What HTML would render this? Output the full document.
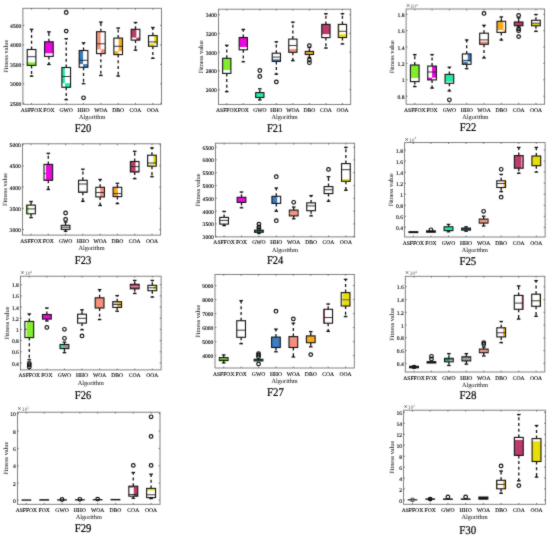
<!DOCTYPE html>
<html><head><meta charset="utf-8"><style>
html,body{margin:0;padding:0;background:#fff;}
body{width:550px;height:538px;overflow:hidden;}
svg{display:block;}
text{text-rendering:geometricPrecision;}
.tk{font-family:"Liberation Serif", "Times New Roman", serif;font-size:5.6px;fill:#000;stroke:#000;stroke-width:0.12px;}
.al{font-family:"Liberation Serif", "Times New Roman", serif;font-size:6.3px;fill:#1a1a1a;stroke:#1a1a1a;stroke-width:0.03px;}
.tt{font-family:"Liberation Serif", "Times New Roman", serif;font-size:11.8px;fill:#000;stroke:#000;stroke-width:0.2px;}
.ex{font-family:"Liberation Serif", "Times New Roman", serif;font-size:5.3px;fill:#555;}
</style></head><body>
<svg width="550" height="538" viewBox="0 0 550 538">
<defs><filter id="soft" x="0" y="0" width="100%" height="100%" filterUnits="userSpaceOnUse" color-interpolation-filters="sRGB"><feConvolveMatrix order="3" kernelMatrix="1 2 1 2 20 2 1 2 1" edgeMode="duplicate"/></filter></defs>
<g filter="url(#soft)">
<rect x="0" y="0" width="550" height="538" fill="#fff"/>
<rect x="22.9" y="8.3" width="138.60" height="96.00" fill="none" stroke="#6a6a6a" stroke-width="0.85"/>
<line x1="22.9" y1="103.25" x2="24.299999999999997" y2="103.25" stroke="#333" stroke-width="0.6"/>
<line x1="161.5" y1="103.25" x2="160.1" y2="103.25" stroke="#333" stroke-width="0.6"/>
<text x="21.299999999999997" y="105.75" text-anchor="end" class="tk">2500</text>
<line x1="22.9" y1="83.8" x2="24.299999999999997" y2="83.8" stroke="#333" stroke-width="0.6"/>
<line x1="161.5" y1="83.8" x2="160.1" y2="83.8" stroke="#333" stroke-width="0.6"/>
<text x="21.299999999999997" y="86.3" text-anchor="end" class="tk">3000</text>
<line x1="22.9" y1="64.35" x2="24.299999999999997" y2="64.35" stroke="#333" stroke-width="0.6"/>
<line x1="161.5" y1="64.35" x2="160.1" y2="64.35" stroke="#333" stroke-width="0.6"/>
<text x="21.299999999999997" y="66.85" text-anchor="end" class="tk">3500</text>
<line x1="22.9" y1="44.9" x2="24.299999999999997" y2="44.9" stroke="#333" stroke-width="0.6"/>
<line x1="161.5" y1="44.9" x2="160.1" y2="44.9" stroke="#333" stroke-width="0.6"/>
<text x="21.299999999999997" y="47.4" text-anchor="end" class="tk">4000</text>
<line x1="22.9" y1="25.45" x2="24.299999999999997" y2="25.45" stroke="#333" stroke-width="0.6"/>
<line x1="161.5" y1="25.45" x2="160.1" y2="25.45" stroke="#333" stroke-width="0.6"/>
<text x="21.299999999999997" y="27.95" text-anchor="end" class="tk">4500</text>
<line x1="31.56" y1="104.3" x2="31.56" y2="102.89999999999999" stroke="#333" stroke-width="0.6"/>
<line x1="31.56" y1="8.3" x2="31.56" y2="9.700000000000001" stroke="#333" stroke-width="0.6"/>
<line x1="48.89" y1="104.3" x2="48.89" y2="102.89999999999999" stroke="#333" stroke-width="0.6"/>
<line x1="48.89" y1="8.3" x2="48.89" y2="9.700000000000001" stroke="#333" stroke-width="0.6"/>
<line x1="66.21" y1="104.3" x2="66.21" y2="102.89999999999999" stroke="#333" stroke-width="0.6"/>
<line x1="66.21" y1="8.3" x2="66.21" y2="9.700000000000001" stroke="#333" stroke-width="0.6"/>
<line x1="83.54" y1="104.3" x2="83.54" y2="102.89999999999999" stroke="#333" stroke-width="0.6"/>
<line x1="83.54" y1="8.3" x2="83.54" y2="9.700000000000001" stroke="#333" stroke-width="0.6"/>
<line x1="100.86" y1="104.3" x2="100.86" y2="102.89999999999999" stroke="#333" stroke-width="0.6"/>
<line x1="100.86" y1="8.3" x2="100.86" y2="9.700000000000001" stroke="#333" stroke-width="0.6"/>
<line x1="118.19" y1="104.3" x2="118.19" y2="102.89999999999999" stroke="#333" stroke-width="0.6"/>
<line x1="118.19" y1="8.3" x2="118.19" y2="9.700000000000001" stroke="#333" stroke-width="0.6"/>
<line x1="135.51" y1="104.3" x2="135.51" y2="102.89999999999999" stroke="#333" stroke-width="0.6"/>
<line x1="135.51" y1="8.3" x2="135.51" y2="9.700000000000001" stroke="#333" stroke-width="0.6"/>
<line x1="152.84" y1="104.3" x2="152.84" y2="102.89999999999999" stroke="#333" stroke-width="0.6"/>
<line x1="152.84" y1="8.3" x2="152.84" y2="9.700000000000001" stroke="#333" stroke-width="0.6"/>
<text x="31.56" y="111.8" text-anchor="middle" class="tk">ASFFOX</text>
<text x="48.89" y="111.8" text-anchor="middle" class="tk">FOX</text>
<text x="66.21" y="111.8" text-anchor="middle" class="tk">GWO</text>
<text x="83.54" y="111.8" text-anchor="middle" class="tk">HHO</text>
<text x="100.86" y="111.8" text-anchor="middle" class="tk">WOA</text>
<text x="118.19" y="111.8" text-anchor="middle" class="tk">DBO</text>
<text x="135.51" y="111.8" text-anchor="middle" class="tk">COA</text>
<text x="152.84" y="111.8" text-anchor="middle" class="tk">OOA</text>
<text x="92.20" y="118.89999999999999" text-anchor="middle" class="al">Algorithm</text>
<text x="7.60" y="56.30" text-anchor="middle" class="al" transform="rotate(-90 7.60 56.30)">Fitness value</text>
<text x="83.00" y="132.20" text-anchor="middle" class="tt" textLength="16.3" lengthAdjust="spacingAndGlyphs">F20</text>
<line x1="31.56" y1="49.5" x2="31.56" y2="29.3" stroke="#111" stroke-width="1.3" stroke-dasharray="3.0,2.7" stroke-dashoffset="0"/>
<line x1="29.76" y1="29.3" x2="33.36" y2="29.3" stroke="#111" stroke-width="1.3"/>
<line x1="31.56" y1="29.3" x2="31.56" y2="30.400000000000002" stroke="#111" stroke-width="1.3"/>
<line x1="31.56" y1="65.4" x2="31.56" y2="76.2" stroke="#111" stroke-width="1.3" stroke-dasharray="3.0,2.7" stroke-dashoffset="0"/>
<line x1="29.76" y1="76.2" x2="33.36" y2="76.2" stroke="#111" stroke-width="1.3"/>
<line x1="31.56" y1="76.2" x2="31.56" y2="75.10000000000001" stroke="#111" stroke-width="1.3"/>
<rect x="27.23" y="49.5" width="8.66" height="15.90" fill="#fff"/>
<rect x="27.23" y="62.3" width="8.66" height="3.10" fill="#82ee2a"/>
<rect x="27.23" y="49.5" width="8.66" height="15.90" fill="none" stroke="#111" stroke-width="1.1"/>
<line x1="27.23" y1="56.7" x2="35.89" y2="56.7" stroke="#222" stroke-width="0.9"/>
<line x1="48.89" y1="41.8" x2="48.89" y2="31.8" stroke="#111" stroke-width="1.3" stroke-dasharray="3.0,2.7" stroke-dashoffset="0"/>
<line x1="47.09" y1="31.8" x2="50.69" y2="31.8" stroke="#111" stroke-width="1.3"/>
<line x1="48.89" y1="31.8" x2="48.89" y2="32.9" stroke="#111" stroke-width="1.3"/>
<line x1="48.89" y1="56.4" x2="48.89" y2="64.5" stroke="#111" stroke-width="1.3" stroke-dasharray="3.0,2.7" stroke-dashoffset="0"/>
<line x1="47.09" y1="64.5" x2="50.69" y2="64.5" stroke="#111" stroke-width="1.3"/>
<line x1="48.89" y1="64.5" x2="48.89" y2="63.4" stroke="#111" stroke-width="1.3"/>
<rect x="44.56" y="41.8" width="8.66" height="14.60" fill="#ea08dc"/>
<rect x="44.56" y="53.3" width="8.66" height="3.10" fill="#fff"/>
<rect x="44.56" y="41.8" width="8.66" height="14.60" fill="none" stroke="#111" stroke-width="1.1"/>
<line x1="66.21" y1="67.5" x2="66.21" y2="38.7" stroke="#111" stroke-width="1.3" stroke-dasharray="3.0,2.7" stroke-dashoffset="0"/>
<line x1="64.41" y1="38.7" x2="68.01" y2="38.7" stroke="#111" stroke-width="1.3"/>
<line x1="66.21" y1="38.7" x2="66.21" y2="39.800000000000004" stroke="#111" stroke-width="1.3"/>
<line x1="66.21" y1="87.3" x2="66.21" y2="99.7" stroke="#111" stroke-width="1.3" stroke-dasharray="3.0,2.7" stroke-dashoffset="0"/>
<line x1="64.41" y1="99.7" x2="68.01" y2="99.7" stroke="#111" stroke-width="1.3"/>
<line x1="66.21" y1="99.7" x2="66.21" y2="98.60000000000001" stroke="#111" stroke-width="1.3"/>
<rect x="61.88" y="67.5" width="8.66" height="19.80" fill="#fff"/>
<rect x="61.88" y="67.5" width="3.03" height="15.70" fill="#22eea2"/>
<rect x="64.91" y="83.2" width="5.63" height="4.10" fill="#22eea2"/>
<rect x="61.88" y="67.5" width="8.66" height="19.80" fill="none" stroke="#111" stroke-width="1.1"/>
<line x1="61.88" y1="76.5" x2="70.54" y2="76.5" stroke="#222" stroke-width="0.9"/>
<circle cx="66.21" cy="12.5" r="1.8" fill="none" stroke="#111" stroke-width="1.2"/>
<circle cx="66.21" cy="31.1" r="1.8" fill="none" stroke="#111" stroke-width="1.2"/>
<line x1="83.54" y1="50.5" x2="83.54" y2="42.8" stroke="#111" stroke-width="1.3" stroke-dasharray="3.0,2.7" stroke-dashoffset="0"/>
<line x1="81.74" y1="42.8" x2="85.34" y2="42.8" stroke="#111" stroke-width="1.3"/>
<line x1="83.54" y1="42.8" x2="83.54" y2="43.9" stroke="#111" stroke-width="1.3"/>
<line x1="83.54" y1="67.3" x2="83.54" y2="83.7" stroke="#111" stroke-width="1.3" stroke-dasharray="3.0,2.7" stroke-dashoffset="0"/>
<line x1="81.74" y1="83.7" x2="85.34" y2="83.7" stroke="#111" stroke-width="1.3"/>
<line x1="83.54" y1="83.7" x2="83.54" y2="82.60000000000001" stroke="#111" stroke-width="1.3"/>
<rect x="79.21" y="50.5" width="8.66" height="16.80" fill="#fff"/>
<rect x="79.21" y="50.5" width="3.90" height="13.60" fill="#3b7ec4"/>
<rect x="83.10" y="64.1" width="4.76" height="3.20" fill="#3b7ec4"/>
<rect x="79.21" y="50.5" width="8.66" height="16.80" fill="none" stroke="#111" stroke-width="1.1"/>
<line x1="79.21" y1="60.3" x2="87.87" y2="60.3" stroke="#222" stroke-width="0.9"/>
<circle cx="83.54" cy="97.8" r="1.8" fill="none" stroke="#111" stroke-width="1.2"/>
<line x1="100.86" y1="31.7" x2="100.86" y2="22.1" stroke="#111" stroke-width="1.3" stroke-dasharray="3.0,2.7" stroke-dashoffset="0"/>
<line x1="99.06" y1="22.1" x2="102.66" y2="22.1" stroke="#111" stroke-width="1.3"/>
<line x1="100.86" y1="22.1" x2="100.86" y2="23.200000000000003" stroke="#111" stroke-width="1.3"/>
<line x1="100.86" y1="53.6" x2="100.86" y2="75.5" stroke="#111" stroke-width="1.3" stroke-dasharray="3.0,2.7" stroke-dashoffset="0"/>
<line x1="99.06" y1="75.5" x2="102.66" y2="75.5" stroke="#111" stroke-width="1.3"/>
<line x1="100.86" y1="75.5" x2="100.86" y2="74.4" stroke="#111" stroke-width="1.3"/>
<rect x="96.53" y="31.7" width="8.66" height="21.90" fill="#fff"/>
<rect x="96.53" y="31.7" width="4.16" height="17.60" fill="#f6907c"/>
<rect x="100.69" y="49.3" width="4.50" height="4.30" fill="#f6907c"/>
<rect x="96.53" y="31.7" width="8.66" height="21.90" fill="none" stroke="#111" stroke-width="1.1"/>
<line x1="96.53" y1="43.8" x2="105.19" y2="43.8" stroke="#222" stroke-width="0.9"/>
<line x1="118.19" y1="38.1" x2="118.19" y2="28.0" stroke="#111" stroke-width="1.3" stroke-dasharray="3.0,2.7" stroke-dashoffset="0"/>
<line x1="116.39" y1="28.0" x2="119.99" y2="28.0" stroke="#111" stroke-width="1.3"/>
<line x1="118.19" y1="28.0" x2="118.19" y2="29.1" stroke="#111" stroke-width="1.3"/>
<line x1="118.19" y1="54.6" x2="118.19" y2="76.1" stroke="#111" stroke-width="1.3" stroke-dasharray="3.0,2.7" stroke-dashoffset="0"/>
<line x1="116.39" y1="76.1" x2="119.99" y2="76.1" stroke="#111" stroke-width="1.3"/>
<line x1="118.19" y1="76.1" x2="118.19" y2="75.0" stroke="#111" stroke-width="1.3"/>
<rect x="113.86" y="38.1" width="8.66" height="16.50" fill="#fff"/>
<rect x="118.62" y="38.1" width="3.90" height="13.20" fill="#f7ab1f"/>
<rect x="113.86" y="51.3" width="4.76" height="3.30" fill="#f7ab1f"/>
<rect x="113.86" y="38.1" width="8.66" height="16.50" fill="none" stroke="#111" stroke-width="1.1"/>
<line x1="113.86" y1="46.3" x2="122.52" y2="46.3" stroke="#222" stroke-width="0.9"/>
<line x1="135.51" y1="29.3" x2="135.51" y2="22.5" stroke="#111" stroke-width="1.3" stroke-dasharray="3.0,2.7" stroke-dashoffset="0"/>
<line x1="133.71" y1="22.5" x2="137.31" y2="22.5" stroke="#111" stroke-width="1.3"/>
<line x1="135.51" y1="22.5" x2="135.51" y2="23.6" stroke="#111" stroke-width="1.3"/>
<line x1="135.51" y1="40.1" x2="135.51" y2="50.2" stroke="#111" stroke-width="1.3" stroke-dasharray="3.0,2.7" stroke-dashoffset="0"/>
<line x1="133.71" y1="50.2" x2="137.31" y2="50.2" stroke="#111" stroke-width="1.3"/>
<line x1="135.51" y1="50.2" x2="135.51" y2="49.1" stroke="#111" stroke-width="1.3"/>
<rect x="131.18" y="29.3" width="8.66" height="10.80" fill="#fff"/>
<rect x="131.18" y="29.3" width="5.20" height="8.30" fill="#bc3b6c"/>
<rect x="136.38" y="37.6" width="3.46" height="2.50" fill="#bc3b6c"/>
<rect x="131.18" y="29.3" width="8.66" height="10.80" fill="none" stroke="#111" stroke-width="1.1"/>
<line x1="152.84" y1="35.6" x2="152.84" y2="27.5" stroke="#111" stroke-width="1.3" stroke-dasharray="3.0,2.7" stroke-dashoffset="0"/>
<line x1="151.04" y1="27.5" x2="154.64" y2="27.5" stroke="#111" stroke-width="1.3"/>
<line x1="152.84" y1="27.5" x2="152.84" y2="28.6" stroke="#111" stroke-width="1.3"/>
<line x1="152.84" y1="46.3" x2="152.84" y2="58.3" stroke="#111" stroke-width="1.3" stroke-dasharray="3.0,2.7" stroke-dashoffset="0"/>
<line x1="151.04" y1="58.3" x2="154.64" y2="58.3" stroke="#111" stroke-width="1.3"/>
<line x1="152.84" y1="58.3" x2="152.84" y2="57.199999999999996" stroke="#111" stroke-width="1.3"/>
<rect x="148.51" y="35.6" width="8.66" height="10.70" fill="#fff"/>
<rect x="154.14" y="35.6" width="3.03" height="8.20" fill="#eade08"/>
<rect x="148.51" y="43.6" width="5.63" height="2.00" fill="#eade08"/>
<rect x="148.51" y="35.6" width="8.66" height="10.70" fill="none" stroke="#111" stroke-width="1.1"/>
<line x1="148.51" y1="41.9" x2="157.17" y2="41.9" stroke="#222" stroke-width="0.9"/>
<rect x="218.5" y="9.2" width="132.20" height="95.20" fill="none" stroke="#6a6a6a" stroke-width="0.85"/>
<line x1="218.5" y1="89.7" x2="219.9" y2="89.7" stroke="#333" stroke-width="0.6"/>
<line x1="350.7" y1="89.7" x2="349.3" y2="89.7" stroke="#333" stroke-width="0.6"/>
<text x="216.9" y="92.2" text-anchor="end" class="tk">2600</text>
<line x1="218.5" y1="70.95" x2="219.9" y2="70.95" stroke="#333" stroke-width="0.6"/>
<line x1="350.7" y1="70.95" x2="349.3" y2="70.95" stroke="#333" stroke-width="0.6"/>
<text x="216.9" y="73.45" text-anchor="end" class="tk">2800</text>
<line x1="218.5" y1="52.2" x2="219.9" y2="52.2" stroke="#333" stroke-width="0.6"/>
<line x1="350.7" y1="52.2" x2="349.3" y2="52.2" stroke="#333" stroke-width="0.6"/>
<text x="216.9" y="54.7" text-anchor="end" class="tk">3000</text>
<line x1="218.5" y1="33.45" x2="219.9" y2="33.45" stroke="#333" stroke-width="0.6"/>
<line x1="350.7" y1="33.45" x2="349.3" y2="33.45" stroke="#333" stroke-width="0.6"/>
<text x="216.9" y="35.95" text-anchor="end" class="tk">3200</text>
<line x1="218.5" y1="14.7" x2="219.9" y2="14.7" stroke="#333" stroke-width="0.6"/>
<line x1="350.7" y1="14.7" x2="349.3" y2="14.7" stroke="#333" stroke-width="0.6"/>
<text x="216.9" y="17.2" text-anchor="end" class="tk">3400</text>
<line x1="226.76" y1="104.4" x2="226.76" y2="103.0" stroke="#333" stroke-width="0.6"/>
<line x1="226.76" y1="9.2" x2="226.76" y2="10.6" stroke="#333" stroke-width="0.6"/>
<line x1="243.29" y1="104.4" x2="243.29" y2="103.0" stroke="#333" stroke-width="0.6"/>
<line x1="243.29" y1="9.2" x2="243.29" y2="10.6" stroke="#333" stroke-width="0.6"/>
<line x1="259.81" y1="104.4" x2="259.81" y2="103.0" stroke="#333" stroke-width="0.6"/>
<line x1="259.81" y1="9.2" x2="259.81" y2="10.6" stroke="#333" stroke-width="0.6"/>
<line x1="276.34" y1="104.4" x2="276.34" y2="103.0" stroke="#333" stroke-width="0.6"/>
<line x1="276.34" y1="9.2" x2="276.34" y2="10.6" stroke="#333" stroke-width="0.6"/>
<line x1="292.86" y1="104.4" x2="292.86" y2="103.0" stroke="#333" stroke-width="0.6"/>
<line x1="292.86" y1="9.2" x2="292.86" y2="10.6" stroke="#333" stroke-width="0.6"/>
<line x1="309.39" y1="104.4" x2="309.39" y2="103.0" stroke="#333" stroke-width="0.6"/>
<line x1="309.39" y1="9.2" x2="309.39" y2="10.6" stroke="#333" stroke-width="0.6"/>
<line x1="325.91" y1="104.4" x2="325.91" y2="103.0" stroke="#333" stroke-width="0.6"/>
<line x1="325.91" y1="9.2" x2="325.91" y2="10.6" stroke="#333" stroke-width="0.6"/>
<line x1="342.44" y1="104.4" x2="342.44" y2="103.0" stroke="#333" stroke-width="0.6"/>
<line x1="342.44" y1="9.2" x2="342.44" y2="10.6" stroke="#333" stroke-width="0.6"/>
<text x="226.76" y="111.9" text-anchor="middle" class="tk">ASFFOX</text>
<text x="243.29" y="111.9" text-anchor="middle" class="tk">FOX</text>
<text x="259.81" y="111.9" text-anchor="middle" class="tk">GWO</text>
<text x="276.34" y="111.9" text-anchor="middle" class="tk">HHO</text>
<text x="292.86" y="111.9" text-anchor="middle" class="tk">WOA</text>
<text x="309.39" y="111.9" text-anchor="middle" class="tk">DBO</text>
<text x="325.91" y="111.9" text-anchor="middle" class="tk">COA</text>
<text x="342.44" y="111.9" text-anchor="middle" class="tk">OOA</text>
<text x="284.60" y="119.0" text-anchor="middle" class="al">Algorithm</text>
<text x="203.20" y="56.80" text-anchor="middle" class="al" transform="rotate(-90 203.20 56.80)">Fitness value</text>
<text x="275.00" y="132.20" text-anchor="middle" class="tt" textLength="16.1" lengthAdjust="spacingAndGlyphs">F21</text>
<line x1="226.76" y1="58.3" x2="226.76" y2="45.3" stroke="#111" stroke-width="1.3" stroke-dasharray="3.0,2.7" stroke-dashoffset="0"/>
<line x1="224.96" y1="45.3" x2="228.56" y2="45.3" stroke="#111" stroke-width="1.3"/>
<line x1="226.76" y1="45.3" x2="226.76" y2="46.4" stroke="#111" stroke-width="1.3"/>
<line x1="226.76" y1="73.4" x2="226.76" y2="91.7" stroke="#111" stroke-width="1.3" stroke-dasharray="3.0,2.7" stroke-dashoffset="0"/>
<line x1="224.96" y1="91.7" x2="228.56" y2="91.7" stroke="#111" stroke-width="1.3"/>
<line x1="226.76" y1="91.7" x2="226.76" y2="90.60000000000001" stroke="#111" stroke-width="1.3"/>
<rect x="222.63" y="58.3" width="8.26" height="15.10" fill="#82ee2a"/>
<rect x="222.63" y="70" width="8.26" height="3.40" fill="#fff"/>
<rect x="222.63" y="58.3" width="8.26" height="15.10" fill="none" stroke="#111" stroke-width="1.1"/>
<line x1="243.29" y1="37.5" x2="243.29" y2="29.4" stroke="#111" stroke-width="1.3" stroke-dasharray="3.0,2.7" stroke-dashoffset="0"/>
<line x1="241.49" y1="29.4" x2="245.09" y2="29.4" stroke="#111" stroke-width="1.3"/>
<line x1="243.29" y1="29.4" x2="243.29" y2="30.5" stroke="#111" stroke-width="1.3"/>
<line x1="243.29" y1="49.8" x2="243.29" y2="61.8" stroke="#111" stroke-width="1.3" stroke-dasharray="3.0,2.7" stroke-dashoffset="0"/>
<line x1="241.49" y1="61.8" x2="245.09" y2="61.8" stroke="#111" stroke-width="1.3"/>
<line x1="243.29" y1="61.8" x2="243.29" y2="60.699999999999996" stroke="#111" stroke-width="1.3"/>
<rect x="239.16" y="37.5" width="8.26" height="12.30" fill="#ea08dc"/>
<rect x="239.16" y="47" width="8.26" height="2.80" fill="#fff"/>
<rect x="239.16" y="37.5" width="8.26" height="12.30" fill="none" stroke="#111" stroke-width="1.1"/>
<line x1="259.81" y1="92.6" x2="259.81" y2="88.8" stroke="#111" stroke-width="1.3" stroke-dasharray="3.0,2.7" stroke-dashoffset="0"/>
<line x1="258.01" y1="88.8" x2="261.61" y2="88.8" stroke="#111" stroke-width="1.3"/>
<line x1="259.81" y1="97.5" x2="259.81" y2="99.9" stroke="#111" stroke-width="1.3" stroke-dasharray="3.0,2.7" stroke-dashoffset="0"/>
<line x1="258.01" y1="99.9" x2="261.61" y2="99.9" stroke="#111" stroke-width="1.3"/>
<rect x="255.68" y="92.6" width="8.26" height="4.90" fill="#22eea2"/>
<rect x="255.68" y="92.6" width="8.26" height="4.90" fill="none" stroke="#111" stroke-width="1.1"/>
<circle cx="259.81" cy="70.5" r="1.8" fill="none" stroke="#111" stroke-width="1.2"/>
<circle cx="259.81" cy="76.5" r="1.8" fill="none" stroke="#111" stroke-width="1.2"/>
<line x1="276.34" y1="53.2" x2="276.34" y2="41.8" stroke="#111" stroke-width="1.3" stroke-dasharray="3.0,2.7" stroke-dashoffset="0"/>
<line x1="274.54" y1="41.8" x2="278.14" y2="41.8" stroke="#111" stroke-width="1.3"/>
<line x1="276.34" y1="41.8" x2="276.34" y2="42.9" stroke="#111" stroke-width="1.3"/>
<line x1="276.34" y1="61.4" x2="276.34" y2="74.2" stroke="#111" stroke-width="1.3" stroke-dasharray="3.0,2.7" stroke-dashoffset="0"/>
<line x1="274.54" y1="74.2" x2="278.14" y2="74.2" stroke="#111" stroke-width="1.3"/>
<line x1="276.34" y1="74.2" x2="276.34" y2="73.10000000000001" stroke="#111" stroke-width="1.3"/>
<rect x="272.21" y="53.2" width="8.26" height="8.20" fill="#fff"/>
<rect x="272.21" y="59.3" width="8.26" height="2.10" fill="#3b7ec4"/>
<rect x="272.21" y="53.2" width="8.26" height="8.20" fill="none" stroke="#111" stroke-width="1.1"/>
<line x1="272.21" y1="57.1" x2="280.47" y2="57.1" stroke="#222" stroke-width="0.9"/>
<circle cx="276.34" cy="81.9" r="1.8" fill="none" stroke="#111" stroke-width="1.2"/>
<line x1="292.86" y1="39.1" x2="292.86" y2="22.1" stroke="#111" stroke-width="1.3" stroke-dasharray="3.0,2.7" stroke-dashoffset="0"/>
<line x1="291.06" y1="22.1" x2="294.66" y2="22.1" stroke="#111" stroke-width="1.3"/>
<line x1="292.86" y1="22.1" x2="292.86" y2="23.200000000000003" stroke="#111" stroke-width="1.3"/>
<line x1="292.86" y1="52.3" x2="292.86" y2="60.7" stroke="#111" stroke-width="1.3" stroke-dasharray="3.0,2.7" stroke-dashoffset="0"/>
<line x1="291.06" y1="60.7" x2="294.66" y2="60.7" stroke="#111" stroke-width="1.3"/>
<line x1="292.86" y1="60.7" x2="292.86" y2="59.6" stroke="#111" stroke-width="1.3"/>
<rect x="288.73" y="39.1" width="8.26" height="13.20" fill="#fff"/>
<rect x="288.73" y="49.1" width="8.26" height="3.20" fill="#f6907c"/>
<rect x="288.73" y="39.1" width="8.26" height="13.20" fill="none" stroke="#111" stroke-width="1.1"/>
<line x1="288.73" y1="45.5" x2="296.99" y2="45.5" stroke="#222" stroke-width="0.9"/>
<line x1="309.39" y1="51.4" x2="309.39" y2="47.5" stroke="#111" stroke-width="1.3" stroke-dasharray="3.0,2.7" stroke-dashoffset="0"/>
<line x1="307.59" y1="47.5" x2="311.19" y2="47.5" stroke="#111" stroke-width="1.3"/>
<line x1="309.39" y1="54.5" x2="309.39" y2="57.5" stroke="#111" stroke-width="1.3" stroke-dasharray="3.0,2.7" stroke-dashoffset="0"/>
<line x1="307.59" y1="57.5" x2="311.19" y2="57.5" stroke="#111" stroke-width="1.3"/>
<rect x="305.26" y="51.4" width="8.26" height="3.10" fill="#f7ab1f"/>
<rect x="305.26" y="51.4" width="8.26" height="3.10" fill="none" stroke="#111" stroke-width="1.1"/>
<circle cx="309.39" cy="45.6" r="1.8" fill="none" stroke="#111" stroke-width="1.2"/>
<circle cx="309.39" cy="60.0" r="1.8" fill="none" stroke="#111" stroke-width="1.2"/>
<circle cx="309.39" cy="62.7" r="1.8" fill="none" stroke="#111" stroke-width="1.2"/>
<line x1="325.91" y1="24.4" x2="325.91" y2="13.7" stroke="#111" stroke-width="1.3" stroke-dasharray="3.0,2.7" stroke-dashoffset="0"/>
<line x1="324.11" y1="13.7" x2="327.71" y2="13.7" stroke="#111" stroke-width="1.3"/>
<line x1="325.91" y1="13.7" x2="325.91" y2="14.799999999999999" stroke="#111" stroke-width="1.3"/>
<line x1="325.91" y1="37.6" x2="325.91" y2="48.1" stroke="#111" stroke-width="1.3" stroke-dasharray="3.0,2.7" stroke-dashoffset="0"/>
<line x1="324.11" y1="48.1" x2="327.71" y2="48.1" stroke="#111" stroke-width="1.3"/>
<line x1="325.91" y1="48.1" x2="325.91" y2="47.0" stroke="#111" stroke-width="1.3"/>
<rect x="321.78" y="24.4" width="8.26" height="13.20" fill="#bc3b6c"/>
<rect x="321.78" y="34.2" width="8.26" height="3.40" fill="#fff"/>
<rect x="321.78" y="24.4" width="8.26" height="13.20" fill="none" stroke="#111" stroke-width="1.1"/>
<line x1="342.44" y1="24.4" x2="342.44" y2="13.6" stroke="#111" stroke-width="1.3" stroke-dasharray="3.0,2.7" stroke-dashoffset="0"/>
<line x1="340.64" y1="13.6" x2="344.24" y2="13.6" stroke="#111" stroke-width="1.3"/>
<line x1="342.44" y1="13.6" x2="342.44" y2="14.7" stroke="#111" stroke-width="1.3"/>
<line x1="342.44" y1="37.5" x2="342.44" y2="44.0" stroke="#111" stroke-width="1.3" stroke-dasharray="3.0,2.7" stroke-dashoffset="0"/>
<line x1="340.64" y1="44.0" x2="344.24" y2="44.0" stroke="#111" stroke-width="1.3"/>
<line x1="342.44" y1="44.0" x2="342.44" y2="42.9" stroke="#111" stroke-width="1.3"/>
<rect x="338.31" y="24.4" width="8.26" height="13.10" fill="#fff"/>
<rect x="338.31" y="34.2" width="8.26" height="2.60" fill="#eade08"/>
<rect x="338.31" y="24.4" width="1.24" height="13.10" fill="#eade08"/>
<rect x="338.31" y="24.4" width="8.26" height="13.10" fill="none" stroke="#111" stroke-width="1.1"/>
<line x1="338.31" y1="31.3" x2="346.57" y2="31.3" stroke="#222" stroke-width="0.9"/>
<rect x="406.1" y="9.0" width="138.50" height="95.25" fill="none" stroke="#6a6a6a" stroke-width="0.85"/>
<line x1="406.1" y1="96.2" x2="407.5" y2="96.2" stroke="#333" stroke-width="0.6"/>
<line x1="544.6" y1="96.2" x2="543.2" y2="96.2" stroke="#333" stroke-width="0.6"/>
<text x="404.5" y="98.7" text-anchor="end" class="tk">0.8</text>
<line x1="406.1" y1="79.8" x2="407.5" y2="79.8" stroke="#333" stroke-width="0.6"/>
<line x1="544.6" y1="79.8" x2="543.2" y2="79.8" stroke="#333" stroke-width="0.6"/>
<text x="404.5" y="82.3" text-anchor="end" class="tk">1</text>
<line x1="406.1" y1="63.4" x2="407.5" y2="63.4" stroke="#333" stroke-width="0.6"/>
<line x1="544.6" y1="63.4" x2="543.2" y2="63.4" stroke="#333" stroke-width="0.6"/>
<text x="404.5" y="65.9" text-anchor="end" class="tk">1.2</text>
<line x1="406.1" y1="47.0" x2="407.5" y2="47.0" stroke="#333" stroke-width="0.6"/>
<line x1="544.6" y1="47.0" x2="543.2" y2="47.0" stroke="#333" stroke-width="0.6"/>
<text x="404.5" y="49.5" text-anchor="end" class="tk">1.4</text>
<line x1="406.1" y1="30.6" x2="407.5" y2="30.6" stroke="#333" stroke-width="0.6"/>
<line x1="544.6" y1="30.6" x2="543.2" y2="30.6" stroke="#333" stroke-width="0.6"/>
<text x="404.5" y="33.1" text-anchor="end" class="tk">1.6</text>
<line x1="406.1" y1="14.25" x2="407.5" y2="14.25" stroke="#333" stroke-width="0.6"/>
<line x1="544.6" y1="14.25" x2="543.2" y2="14.25" stroke="#333" stroke-width="0.6"/>
<text x="404.5" y="16.75" text-anchor="end" class="tk">1.8</text>
<line x1="414.76" y1="104.25" x2="414.76" y2="102.85" stroke="#333" stroke-width="0.6"/>
<line x1="414.76" y1="9.0" x2="414.76" y2="10.4" stroke="#333" stroke-width="0.6"/>
<line x1="432.07" y1="104.25" x2="432.07" y2="102.85" stroke="#333" stroke-width="0.6"/>
<line x1="432.07" y1="9.0" x2="432.07" y2="10.4" stroke="#333" stroke-width="0.6"/>
<line x1="449.38" y1="104.25" x2="449.38" y2="102.85" stroke="#333" stroke-width="0.6"/>
<line x1="449.38" y1="9.0" x2="449.38" y2="10.4" stroke="#333" stroke-width="0.6"/>
<line x1="466.69" y1="104.25" x2="466.69" y2="102.85" stroke="#333" stroke-width="0.6"/>
<line x1="466.69" y1="9.0" x2="466.69" y2="10.4" stroke="#333" stroke-width="0.6"/>
<line x1="484.01" y1="104.25" x2="484.01" y2="102.85" stroke="#333" stroke-width="0.6"/>
<line x1="484.01" y1="9.0" x2="484.01" y2="10.4" stroke="#333" stroke-width="0.6"/>
<line x1="501.32" y1="104.25" x2="501.32" y2="102.85" stroke="#333" stroke-width="0.6"/>
<line x1="501.32" y1="9.0" x2="501.32" y2="10.4" stroke="#333" stroke-width="0.6"/>
<line x1="518.63" y1="104.25" x2="518.63" y2="102.85" stroke="#333" stroke-width="0.6"/>
<line x1="518.63" y1="9.0" x2="518.63" y2="10.4" stroke="#333" stroke-width="0.6"/>
<line x1="535.94" y1="104.25" x2="535.94" y2="102.85" stroke="#333" stroke-width="0.6"/>
<line x1="535.94" y1="9.0" x2="535.94" y2="10.4" stroke="#333" stroke-width="0.6"/>
<text x="414.76" y="111.75" text-anchor="middle" class="tk">ASFFOX</text>
<text x="432.07" y="111.75" text-anchor="middle" class="tk">FOX</text>
<text x="449.38" y="111.75" text-anchor="middle" class="tk">GWO</text>
<text x="466.69" y="111.75" text-anchor="middle" class="tk">HHO</text>
<text x="484.01" y="111.75" text-anchor="middle" class="tk">WOA</text>
<text x="501.32" y="111.75" text-anchor="middle" class="tk">DBO</text>
<text x="518.63" y="111.75" text-anchor="middle" class="tk">COA</text>
<text x="535.94" y="111.75" text-anchor="middle" class="tk">OOA</text>
<text x="475.35" y="118.85" text-anchor="middle" class="al">Algorithm</text>
<text x="394.50" y="56.62" text-anchor="middle" class="al" transform="rotate(-90 394.50 56.62)">Fitness value</text>
<text x="468.00" y="131.40" text-anchor="middle" class="tt" textLength="16.5" lengthAdjust="spacingAndGlyphs">F22</text>
<text x="405.90000000000003" y="7.7" class="ex"><tspan font-size="7.6" fill="#222" dy="0.3">×</tspan><tspan dx="0.4">10</tspan><tspan dy="-2.2" font-size="3.6">4</tspan></text>
<line x1="414.76" y1="65.0" x2="414.76" y2="54.6" stroke="#111" stroke-width="1.3" stroke-dasharray="3.0,2.7" stroke-dashoffset="0"/>
<line x1="412.96" y1="54.6" x2="416.56" y2="54.6" stroke="#111" stroke-width="1.3"/>
<line x1="414.76" y1="54.6" x2="414.76" y2="55.7" stroke="#111" stroke-width="1.3"/>
<line x1="414.76" y1="81.6" x2="414.76" y2="86.6" stroke="#111" stroke-width="1.3" stroke-dasharray="3.0,2.7" stroke-dashoffset="0"/>
<line x1="412.96" y1="86.6" x2="416.56" y2="86.6" stroke="#111" stroke-width="1.3"/>
<line x1="414.76" y1="86.6" x2="414.76" y2="85.5" stroke="#111" stroke-width="1.3"/>
<rect x="410.43" y="65.0" width="8.66" height="16.60" fill="#82ee2a"/>
<rect x="410.43" y="78" width="8.66" height="3.60" fill="#fff"/>
<rect x="410.43" y="65.0" width="8.66" height="16.60" fill="none" stroke="#111" stroke-width="1.1"/>
<line x1="432.07" y1="66.1" x2="432.07" y2="54.6" stroke="#111" stroke-width="1.3" stroke-dasharray="3.0,2.7" stroke-dashoffset="0"/>
<line x1="430.27" y1="54.6" x2="433.87" y2="54.6" stroke="#111" stroke-width="1.3"/>
<line x1="432.07" y1="54.6" x2="432.07" y2="55.7" stroke="#111" stroke-width="1.3"/>
<line x1="432.07" y1="79.9" x2="432.07" y2="88.1" stroke="#111" stroke-width="1.3" stroke-dasharray="3.0,2.7" stroke-dashoffset="0"/>
<line x1="430.27" y1="88.1" x2="433.87" y2="88.1" stroke="#111" stroke-width="1.3"/>
<line x1="432.07" y1="88.1" x2="432.07" y2="87.0" stroke="#111" stroke-width="1.3"/>
<rect x="427.74" y="66.1" width="8.66" height="13.80" fill="#fff"/>
<rect x="432.07" y="66.1" width="4.33" height="11.60" fill="#ea08dc"/>
<rect x="427.74" y="77.7" width="4.33" height="2.20" fill="#ea08dc"/>
<rect x="427.74" y="66.1" width="8.66" height="13.80" fill="none" stroke="#111" stroke-width="1.1"/>
<line x1="427.74" y1="72.0" x2="436.40" y2="72.0" stroke="#222" stroke-width="0.9"/>
<line x1="449.38" y1="74.4" x2="449.38" y2="67.2" stroke="#111" stroke-width="1.3" stroke-dasharray="3.0,2.7" stroke-dashoffset="0"/>
<line x1="447.58" y1="67.2" x2="451.18" y2="67.2" stroke="#111" stroke-width="1.3"/>
<line x1="449.38" y1="67.2" x2="449.38" y2="68.3" stroke="#111" stroke-width="1.3"/>
<line x1="449.38" y1="83.3" x2="449.38" y2="91.0" stroke="#111" stroke-width="1.3" stroke-dasharray="3.0,2.7" stroke-dashoffset="0"/>
<line x1="447.58" y1="91.0" x2="451.18" y2="91.0" stroke="#111" stroke-width="1.3"/>
<line x1="449.38" y1="91.0" x2="449.38" y2="89.9" stroke="#111" stroke-width="1.3"/>
<rect x="445.05" y="74.4" width="8.66" height="8.90" fill="#22eea2"/>
<rect x="445.05" y="81.8" width="8.66" height="1.50" fill="#fff"/>
<rect x="445.05" y="74.4" width="8.66" height="8.90" fill="none" stroke="#111" stroke-width="1.1"/>
<circle cx="449.38" cy="99.8" r="1.8" fill="none" stroke="#111" stroke-width="1.2"/>
<line x1="466.69" y1="53.9" x2="466.69" y2="39.9" stroke="#111" stroke-width="1.3" stroke-dasharray="3.0,2.7" stroke-dashoffset="0"/>
<line x1="464.89" y1="39.9" x2="468.49" y2="39.9" stroke="#111" stroke-width="1.3"/>
<line x1="466.69" y1="39.9" x2="466.69" y2="41.0" stroke="#111" stroke-width="1.3"/>
<line x1="466.69" y1="64.3" x2="466.69" y2="68.7" stroke="#111" stroke-width="1.3" stroke-dasharray="3.0,2.7" stroke-dashoffset="0"/>
<line x1="464.89" y1="68.7" x2="468.49" y2="68.7" stroke="#111" stroke-width="1.3"/>
<line x1="466.69" y1="68.7" x2="466.69" y2="67.60000000000001" stroke="#111" stroke-width="1.3"/>
<rect x="462.37" y="53.9" width="8.66" height="10.40" fill="#fff"/>
<rect x="467.73" y="53.9" width="3.29" height="7.70" fill="#3b7ec4"/>
<rect x="462.37" y="61.6" width="5.37" height="2.70" fill="#3b7ec4"/>
<rect x="462.37" y="53.9" width="8.66" height="10.40" fill="none" stroke="#111" stroke-width="1.1"/>
<line x1="462.37" y1="60.4" x2="471.02" y2="60.4" stroke="#222" stroke-width="0.9"/>
<line x1="484.01" y1="33.2" x2="484.01" y2="25.3" stroke="#111" stroke-width="1.3" stroke-dasharray="3.0,2.7" stroke-dashoffset="0"/>
<line x1="482.21" y1="25.3" x2="485.81" y2="25.3" stroke="#111" stroke-width="1.3"/>
<line x1="484.01" y1="25.3" x2="484.01" y2="26.400000000000002" stroke="#111" stroke-width="1.3"/>
<line x1="484.01" y1="44.3" x2="484.01" y2="58.0" stroke="#111" stroke-width="1.3" stroke-dasharray="3.0,2.7" stroke-dashoffset="0"/>
<line x1="482.21" y1="58.0" x2="485.81" y2="58.0" stroke="#111" stroke-width="1.3"/>
<line x1="484.01" y1="58.0" x2="484.01" y2="56.9" stroke="#111" stroke-width="1.3"/>
<rect x="479.68" y="33.2" width="8.66" height="11.10" fill="#fff"/>
<rect x="479.68" y="41.6" width="8.66" height="2.70" fill="#f6907c"/>
<rect x="479.68" y="33.2" width="8.66" height="11.10" fill="none" stroke="#111" stroke-width="1.1"/>
<line x1="479.68" y1="39.9" x2="488.33" y2="39.9" stroke="#222" stroke-width="0.9"/>
<circle cx="484.01" cy="13.4" r="1.8" fill="none" stroke="#111" stroke-width="1.2"/>
<line x1="501.32" y1="21.3" x2="501.32" y2="16.9" stroke="#111" stroke-width="1.3" stroke-dasharray="3.0,2.7" stroke-dashoffset="0"/>
<line x1="499.52" y1="16.9" x2="503.12" y2="16.9" stroke="#111" stroke-width="1.3"/>
<line x1="501.32" y1="16.9" x2="501.32" y2="18.0" stroke="#111" stroke-width="1.3"/>
<line x1="501.32" y1="32.4" x2="501.32" y2="40.1" stroke="#111" stroke-width="1.3" stroke-dasharray="3.0,2.7" stroke-dashoffset="0"/>
<line x1="499.52" y1="40.1" x2="503.12" y2="40.1" stroke="#111" stroke-width="1.3"/>
<line x1="501.32" y1="40.1" x2="501.32" y2="39.0" stroke="#111" stroke-width="1.3"/>
<rect x="496.99" y="21.3" width="8.66" height="11.10" fill="#fff"/>
<rect x="496.99" y="21.3" width="6.49" height="8.70" fill="#f7ab1f"/>
<rect x="503.48" y="30" width="2.16" height="2.40" fill="#f7ab1f"/>
<rect x="496.99" y="21.3" width="8.66" height="11.10" fill="none" stroke="#111" stroke-width="1.1"/>
<line x1="518.63" y1="22.0" x2="518.63" y2="17.8" stroke="#111" stroke-width="1.3" stroke-dasharray="3.0,2.7" stroke-dashoffset="0"/>
<line x1="516.83" y1="17.8" x2="520.43" y2="17.8" stroke="#111" stroke-width="1.3"/>
<line x1="518.63" y1="17.8" x2="518.63" y2="18.900000000000002" stroke="#111" stroke-width="1.3"/>
<line x1="518.63" y1="25.7" x2="518.63" y2="27.0" stroke="#111" stroke-width="1.3" stroke-dasharray="3.0,2.7" stroke-dashoffset="0"/>
<line x1="516.83" y1="27.0" x2="520.43" y2="27.0" stroke="#111" stroke-width="1.3"/>
<rect x="514.30" y="22.0" width="8.66" height="3.70" fill="#bc3b6c"/>
<rect x="514.30" y="22.0" width="8.66" height="3.70" fill="none" stroke="#111" stroke-width="1.1"/>
<circle cx="518.63" cy="15.4" r="1.8" fill="none" stroke="#111" stroke-width="1.2"/>
<circle cx="518.63" cy="29.0" r="1.8" fill="none" stroke="#111" stroke-width="1.2"/>
<circle cx="518.63" cy="30.7" r="1.8" fill="none" stroke="#111" stroke-width="1.2"/>
<circle cx="518.63" cy="36.6" r="1.8" fill="none" stroke="#111" stroke-width="1.2"/>
<line x1="535.94" y1="20.3" x2="535.94" y2="14.5" stroke="#111" stroke-width="1.3" stroke-dasharray="3.0,2.7" stroke-dashoffset="0"/>
<line x1="534.14" y1="14.5" x2="537.74" y2="14.5" stroke="#111" stroke-width="1.3"/>
<line x1="535.94" y1="14.5" x2="535.94" y2="15.6" stroke="#111" stroke-width="1.3"/>
<line x1="535.94" y1="25.8" x2="535.94" y2="31.4" stroke="#111" stroke-width="1.3" stroke-dasharray="3.0,2.7" stroke-dashoffset="0"/>
<line x1="534.14" y1="31.4" x2="537.74" y2="31.4" stroke="#111" stroke-width="1.3"/>
<line x1="535.94" y1="31.4" x2="535.94" y2="30.299999999999997" stroke="#111" stroke-width="1.3"/>
<rect x="531.62" y="20.3" width="8.66" height="5.50" fill="#fff"/>
<rect x="531.62" y="24" width="8.66" height="1.50" fill="#eade08"/>
<rect x="531.62" y="20.3" width="8.66" height="5.50" fill="none" stroke="#111" stroke-width="1.1"/>
<line x1="531.62" y1="23.2" x2="540.27" y2="23.2" stroke="#222" stroke-width="0.9"/>
<rect x="22.4" y="143.8" width="138.20" height="91.30" fill="none" stroke="#6a6a6a" stroke-width="0.85"/>
<line x1="22.4" y1="229.5" x2="23.799999999999997" y2="229.5" stroke="#333" stroke-width="0.6"/>
<line x1="160.6" y1="229.5" x2="159.2" y2="229.5" stroke="#333" stroke-width="0.6"/>
<text x="20.799999999999997" y="232.0" text-anchor="end" class="tk">3000</text>
<line x1="22.4" y1="208.3" x2="23.799999999999997" y2="208.3" stroke="#333" stroke-width="0.6"/>
<line x1="160.6" y1="208.3" x2="159.2" y2="208.3" stroke="#333" stroke-width="0.6"/>
<text x="20.799999999999997" y="210.8" text-anchor="end" class="tk">3500</text>
<line x1="22.4" y1="187.1" x2="23.799999999999997" y2="187.1" stroke="#333" stroke-width="0.6"/>
<line x1="160.6" y1="187.1" x2="159.2" y2="187.1" stroke="#333" stroke-width="0.6"/>
<text x="20.799999999999997" y="189.6" text-anchor="end" class="tk">4000</text>
<line x1="22.4" y1="165.9" x2="23.799999999999997" y2="165.9" stroke="#333" stroke-width="0.6"/>
<line x1="160.6" y1="165.9" x2="159.2" y2="165.9" stroke="#333" stroke-width="0.6"/>
<text x="20.799999999999997" y="168.4" text-anchor="end" class="tk">4500</text>
<line x1="22.4" y1="144.7" x2="23.799999999999997" y2="144.7" stroke="#333" stroke-width="0.6"/>
<line x1="160.6" y1="144.7" x2="159.2" y2="144.7" stroke="#333" stroke-width="0.6"/>
<text x="20.799999999999997" y="147.2" text-anchor="end" class="tk">5000</text>
<line x1="31.04" y1="235.1" x2="31.04" y2="233.7" stroke="#333" stroke-width="0.6"/>
<line x1="31.04" y1="143.8" x2="31.04" y2="145.20000000000002" stroke="#333" stroke-width="0.6"/>
<line x1="48.31" y1="235.1" x2="48.31" y2="233.7" stroke="#333" stroke-width="0.6"/>
<line x1="48.31" y1="143.8" x2="48.31" y2="145.20000000000002" stroke="#333" stroke-width="0.6"/>
<line x1="65.59" y1="235.1" x2="65.59" y2="233.7" stroke="#333" stroke-width="0.6"/>
<line x1="65.59" y1="143.8" x2="65.59" y2="145.20000000000002" stroke="#333" stroke-width="0.6"/>
<line x1="82.86" y1="235.1" x2="82.86" y2="233.7" stroke="#333" stroke-width="0.6"/>
<line x1="82.86" y1="143.8" x2="82.86" y2="145.20000000000002" stroke="#333" stroke-width="0.6"/>
<line x1="100.14" y1="235.1" x2="100.14" y2="233.7" stroke="#333" stroke-width="0.6"/>
<line x1="100.14" y1="143.8" x2="100.14" y2="145.20000000000002" stroke="#333" stroke-width="0.6"/>
<line x1="117.41" y1="235.1" x2="117.41" y2="233.7" stroke="#333" stroke-width="0.6"/>
<line x1="117.41" y1="143.8" x2="117.41" y2="145.20000000000002" stroke="#333" stroke-width="0.6"/>
<line x1="134.69" y1="235.1" x2="134.69" y2="233.7" stroke="#333" stroke-width="0.6"/>
<line x1="134.69" y1="143.8" x2="134.69" y2="145.20000000000002" stroke="#333" stroke-width="0.6"/>
<line x1="151.96" y1="235.1" x2="151.96" y2="233.7" stroke="#333" stroke-width="0.6"/>
<line x1="151.96" y1="143.8" x2="151.96" y2="145.20000000000002" stroke="#333" stroke-width="0.6"/>
<text x="31.04" y="242.6" text-anchor="middle" class="tk">ASFFOX</text>
<text x="48.31" y="242.6" text-anchor="middle" class="tk">FOX</text>
<text x="65.59" y="242.6" text-anchor="middle" class="tk">GWO</text>
<text x="82.86" y="242.6" text-anchor="middle" class="tk">HHO</text>
<text x="100.14" y="242.6" text-anchor="middle" class="tk">WOA</text>
<text x="117.41" y="242.6" text-anchor="middle" class="tk">DBO</text>
<text x="134.69" y="242.6" text-anchor="middle" class="tk">COA</text>
<text x="151.96" y="242.6" text-anchor="middle" class="tk">OOA</text>
<text x="91.50" y="249.7" text-anchor="middle" class="al">Algorithm</text>
<text x="7.10" y="189.45" text-anchor="middle" class="al" transform="rotate(-90 7.10 189.45)">Fitness value</text>
<text x="83.00" y="264.00" text-anchor="middle" class="tt" textLength="16.3" lengthAdjust="spacingAndGlyphs">F23</text>
<line x1="31.04" y1="205.1" x2="31.04" y2="201.5" stroke="#111" stroke-width="1.3" stroke-dasharray="3.0,2.7" stroke-dashoffset="0"/>
<line x1="29.24" y1="201.5" x2="32.84" y2="201.5" stroke="#111" stroke-width="1.3"/>
<line x1="31.04" y1="213.8" x2="31.04" y2="217.6" stroke="#111" stroke-width="1.3" stroke-dasharray="3.0,2.7" stroke-dashoffset="0"/>
<line x1="29.24" y1="217.6" x2="32.84" y2="217.6" stroke="#111" stroke-width="1.3"/>
<rect x="26.72" y="205.1" width="8.64" height="8.70" fill="#fff"/>
<rect x="26.72" y="205.1" width="1.73" height="8.70" fill="#82ee2a"/>
<rect x="26.72" y="205.1" width="8.64" height="8.70" fill="none" stroke="#111" stroke-width="1.1"/>
<line x1="26.72" y1="208.9" x2="35.36" y2="208.9" stroke="#222" stroke-width="0.9"/>
<line x1="48.31" y1="164.4" x2="48.31" y2="153.3" stroke="#111" stroke-width="1.3" stroke-dasharray="3.0,2.7" stroke-dashoffset="0"/>
<line x1="46.51" y1="153.3" x2="50.11" y2="153.3" stroke="#111" stroke-width="1.3"/>
<line x1="48.31" y1="153.3" x2="48.31" y2="154.4" stroke="#111" stroke-width="1.3"/>
<line x1="48.31" y1="180.3" x2="48.31" y2="189.5" stroke="#111" stroke-width="1.3" stroke-dasharray="3.0,2.7" stroke-dashoffset="0"/>
<line x1="46.51" y1="189.5" x2="50.11" y2="189.5" stroke="#111" stroke-width="1.3"/>
<line x1="48.31" y1="189.5" x2="48.31" y2="188.4" stroke="#111" stroke-width="1.3"/>
<rect x="43.99" y="164.4" width="8.64" height="15.90" fill="#fff"/>
<rect x="45.89" y="164.4" width="6.74" height="15.90" fill="#ea08dc"/>
<rect x="43.99" y="179.3" width="1.90" height="1.00" fill="#ea08dc"/>
<rect x="43.99" y="164.4" width="8.64" height="15.90" fill="none" stroke="#111" stroke-width="1.1"/>
<line x1="43.99" y1="173.4" x2="45.72" y2="173.4" stroke="#222" stroke-width="0.9"/>
<line x1="65.59" y1="225.3" x2="65.59" y2="222.0" stroke="#111" stroke-width="1.3" stroke-dasharray="3.0,2.7" stroke-dashoffset="0"/>
<line x1="63.79" y1="222.0" x2="67.39" y2="222.0" stroke="#111" stroke-width="1.3"/>
<line x1="65.59" y1="229.4" x2="65.59" y2="231.3" stroke="#111" stroke-width="1.3" stroke-dasharray="3.0,2.7" stroke-dashoffset="0"/>
<line x1="63.79" y1="231.3" x2="67.39" y2="231.3" stroke="#111" stroke-width="1.3"/>
<rect x="61.27" y="225.3" width="8.64" height="4.10" fill="#f4f4f4"/>
<rect x="61.27" y="225.3" width="8.64" height="4.10" fill="none" stroke="#111" stroke-width="1.1"/>
<line x1="61.27" y1="227.2" x2="69.91" y2="227.2" stroke="#222" stroke-width="0.9"/>
<circle cx="65.59" cy="213.0" r="1.8" fill="none" stroke="#111" stroke-width="1.2"/>
<circle cx="65.59" cy="219.5" r="1.8" fill="none" stroke="#111" stroke-width="1.2"/>
<line x1="82.86" y1="180.3" x2="82.86" y2="169.2" stroke="#111" stroke-width="1.3" stroke-dasharray="3.0,2.7" stroke-dashoffset="0"/>
<line x1="81.06" y1="169.2" x2="84.66" y2="169.2" stroke="#111" stroke-width="1.3"/>
<line x1="82.86" y1="169.2" x2="82.86" y2="170.29999999999998" stroke="#111" stroke-width="1.3"/>
<line x1="82.86" y1="192.3" x2="82.86" y2="201.4" stroke="#111" stroke-width="1.3" stroke-dasharray="3.0,2.7" stroke-dashoffset="0"/>
<line x1="81.06" y1="201.4" x2="84.66" y2="201.4" stroke="#111" stroke-width="1.3"/>
<line x1="82.86" y1="201.4" x2="82.86" y2="200.3" stroke="#111" stroke-width="1.3"/>
<rect x="78.54" y="180.3" width="8.64" height="12.00" fill="#fff"/>
<rect x="78.54" y="190.9" width="8.64" height="1.00" fill="#8ab0e0"/>
<rect x="78.54" y="180.3" width="8.64" height="12.00" fill="none" stroke="#111" stroke-width="1.1"/>
<line x1="78.54" y1="184.0" x2="87.18" y2="184.0" stroke="#222" stroke-width="0.9"/>
<line x1="100.14" y1="187.3" x2="100.14" y2="179.5" stroke="#111" stroke-width="1.3" stroke-dasharray="3.0,2.7" stroke-dashoffset="0"/>
<line x1="98.34" y1="179.5" x2="101.94" y2="179.5" stroke="#111" stroke-width="1.3"/>
<line x1="100.14" y1="179.5" x2="100.14" y2="180.6" stroke="#111" stroke-width="1.3"/>
<line x1="100.14" y1="196.9" x2="100.14" y2="205.5" stroke="#111" stroke-width="1.3" stroke-dasharray="3.0,2.7" stroke-dashoffset="0"/>
<line x1="98.34" y1="205.5" x2="101.94" y2="205.5" stroke="#111" stroke-width="1.3"/>
<line x1="100.14" y1="205.5" x2="100.14" y2="204.4" stroke="#111" stroke-width="1.3"/>
<rect x="95.82" y="187.3" width="8.64" height="9.60" fill="#fff"/>
<rect x="100.14" y="187.3" width="4.32" height="9.60" fill="#f6907c"/>
<rect x="95.82" y="187.3" width="8.64" height="9.60" fill="none" stroke="#111" stroke-width="1.1"/>
<line x1="95.82" y1="192.5" x2="104.46" y2="192.5" stroke="#222" stroke-width="0.9"/>
<line x1="117.41" y1="187.3" x2="117.41" y2="183.3" stroke="#111" stroke-width="1.3" stroke-dasharray="3.0,2.7" stroke-dashoffset="0"/>
<line x1="115.61" y1="183.3" x2="119.21" y2="183.3" stroke="#111" stroke-width="1.3"/>
<line x1="117.41" y1="196.6" x2="117.41" y2="203.6" stroke="#111" stroke-width="1.3" stroke-dasharray="3.0,2.7" stroke-dashoffset="0"/>
<line x1="115.61" y1="203.6" x2="119.21" y2="203.6" stroke="#111" stroke-width="1.3"/>
<line x1="117.41" y1="203.6" x2="117.41" y2="202.5" stroke="#111" stroke-width="1.3"/>
<rect x="113.09" y="187.3" width="8.64" height="9.30" fill="#fff"/>
<rect x="113.09" y="187.3" width="4.75" height="9.30" fill="#f7ab1f"/>
<rect x="113.09" y="187.3" width="8.64" height="9.30" fill="none" stroke="#111" stroke-width="1.1"/>
<line x1="113.09" y1="193.6" x2="121.73" y2="193.6" stroke="#222" stroke-width="0.9"/>
<line x1="134.69" y1="161.5" x2="134.69" y2="151.3" stroke="#111" stroke-width="1.3" stroke-dasharray="3.0,2.7" stroke-dashoffset="0"/>
<line x1="132.89" y1="151.3" x2="136.49" y2="151.3" stroke="#111" stroke-width="1.3"/>
<line x1="134.69" y1="151.3" x2="134.69" y2="152.4" stroke="#111" stroke-width="1.3"/>
<line x1="134.69" y1="172.0" x2="134.69" y2="178.7" stroke="#111" stroke-width="1.3" stroke-dasharray="3.0,2.7" stroke-dashoffset="0"/>
<line x1="132.89" y1="178.7" x2="136.49" y2="178.7" stroke="#111" stroke-width="1.3"/>
<line x1="134.69" y1="178.7" x2="134.69" y2="177.6" stroke="#111" stroke-width="1.3"/>
<rect x="130.37" y="161.5" width="8.64" height="10.50" fill="#fff"/>
<rect x="130.37" y="161.5" width="5.18" height="10.50" fill="#bc3b6c"/>
<rect x="135.55" y="170.8" width="3.46" height="1.20" fill="#bc3b6c"/>
<rect x="130.37" y="161.5" width="8.64" height="10.50" fill="none" stroke="#111" stroke-width="1.1"/>
<line x1="130.37" y1="166.6" x2="139.01" y2="166.6" stroke="#222" stroke-width="0.9"/>
<line x1="151.96" y1="155.2" x2="151.96" y2="147.8" stroke="#111" stroke-width="1.3" stroke-dasharray="3.0,2.7" stroke-dashoffset="0"/>
<line x1="150.16" y1="147.8" x2="153.76" y2="147.8" stroke="#111" stroke-width="1.3"/>
<line x1="151.96" y1="147.8" x2="151.96" y2="148.9" stroke="#111" stroke-width="1.3"/>
<line x1="151.96" y1="166.2" x2="151.96" y2="176.7" stroke="#111" stroke-width="1.3" stroke-dasharray="3.0,2.7" stroke-dashoffset="0"/>
<line x1="150.16" y1="176.7" x2="153.76" y2="176.7" stroke="#111" stroke-width="1.3"/>
<line x1="151.96" y1="176.7" x2="151.96" y2="175.6" stroke="#111" stroke-width="1.3"/>
<rect x="147.64" y="155.2" width="8.64" height="11.00" fill="#fff"/>
<rect x="153.26" y="155.2" width="3.02" height="9.40" fill="#eade08"/>
<rect x="147.64" y="164.6" width="5.61" height="1.40" fill="#eade08"/>
<rect x="147.64" y="155.2" width="8.64" height="11.00" fill="none" stroke="#111" stroke-width="1.1"/>
<line x1="147.64" y1="163.0" x2="156.28" y2="163.0" stroke="#222" stroke-width="0.9"/>
<rect x="215.4" y="143.2" width="139.20" height="93.70" fill="none" stroke="#6a6a6a" stroke-width="0.85"/>
<line x1="215.4" y1="236.7" x2="216.8" y2="236.7" stroke="#333" stroke-width="0.6"/>
<line x1="354.6" y1="236.7" x2="353.20000000000005" y2="236.7" stroke="#333" stroke-width="0.6"/>
<text x="213.8" y="239.2" text-anchor="end" class="tk">3000</text>
<line x1="215.4" y1="223.9" x2="216.8" y2="223.9" stroke="#333" stroke-width="0.6"/>
<line x1="354.6" y1="223.9" x2="353.20000000000005" y2="223.9" stroke="#333" stroke-width="0.6"/>
<text x="213.8" y="226.4" text-anchor="end" class="tk">3500</text>
<line x1="215.4" y1="211.1" x2="216.8" y2="211.1" stroke="#333" stroke-width="0.6"/>
<line x1="354.6" y1="211.1" x2="353.20000000000005" y2="211.1" stroke="#333" stroke-width="0.6"/>
<text x="213.8" y="213.6" text-anchor="end" class="tk">4000</text>
<line x1="215.4" y1="198.3" x2="216.8" y2="198.3" stroke="#333" stroke-width="0.6"/>
<line x1="354.6" y1="198.3" x2="353.20000000000005" y2="198.3" stroke="#333" stroke-width="0.6"/>
<text x="213.8" y="200.8" text-anchor="end" class="tk">4500</text>
<line x1="215.4" y1="185.5" x2="216.8" y2="185.5" stroke="#333" stroke-width="0.6"/>
<line x1="354.6" y1="185.5" x2="353.20000000000005" y2="185.5" stroke="#333" stroke-width="0.6"/>
<text x="213.8" y="188.0" text-anchor="end" class="tk">5000</text>
<line x1="215.4" y1="172.7" x2="216.8" y2="172.7" stroke="#333" stroke-width="0.6"/>
<line x1="354.6" y1="172.7" x2="353.20000000000005" y2="172.7" stroke="#333" stroke-width="0.6"/>
<text x="213.8" y="175.2" text-anchor="end" class="tk">5500</text>
<line x1="215.4" y1="159.9" x2="216.8" y2="159.9" stroke="#333" stroke-width="0.6"/>
<line x1="354.6" y1="159.9" x2="353.20000000000005" y2="159.9" stroke="#333" stroke-width="0.6"/>
<text x="213.8" y="162.4" text-anchor="end" class="tk">6000</text>
<line x1="215.4" y1="147.1" x2="216.8" y2="147.1" stroke="#333" stroke-width="0.6"/>
<line x1="354.6" y1="147.1" x2="353.20000000000005" y2="147.1" stroke="#333" stroke-width="0.6"/>
<text x="213.8" y="149.6" text-anchor="end" class="tk">6500</text>
<line x1="224.10" y1="236.9" x2="224.10" y2="235.5" stroke="#333" stroke-width="0.6"/>
<line x1="224.10" y1="143.2" x2="224.10" y2="144.6" stroke="#333" stroke-width="0.6"/>
<line x1="241.50" y1="236.9" x2="241.50" y2="235.5" stroke="#333" stroke-width="0.6"/>
<line x1="241.50" y1="143.2" x2="241.50" y2="144.6" stroke="#333" stroke-width="0.6"/>
<line x1="258.90" y1="236.9" x2="258.90" y2="235.5" stroke="#333" stroke-width="0.6"/>
<line x1="258.90" y1="143.2" x2="258.90" y2="144.6" stroke="#333" stroke-width="0.6"/>
<line x1="276.30" y1="236.9" x2="276.30" y2="235.5" stroke="#333" stroke-width="0.6"/>
<line x1="276.30" y1="143.2" x2="276.30" y2="144.6" stroke="#333" stroke-width="0.6"/>
<line x1="293.70" y1="236.9" x2="293.70" y2="235.5" stroke="#333" stroke-width="0.6"/>
<line x1="293.70" y1="143.2" x2="293.70" y2="144.6" stroke="#333" stroke-width="0.6"/>
<line x1="311.10" y1="236.9" x2="311.10" y2="235.5" stroke="#333" stroke-width="0.6"/>
<line x1="311.10" y1="143.2" x2="311.10" y2="144.6" stroke="#333" stroke-width="0.6"/>
<line x1="328.50" y1="236.9" x2="328.50" y2="235.5" stroke="#333" stroke-width="0.6"/>
<line x1="328.50" y1="143.2" x2="328.50" y2="144.6" stroke="#333" stroke-width="0.6"/>
<line x1="345.90" y1="236.9" x2="345.90" y2="235.5" stroke="#333" stroke-width="0.6"/>
<line x1="345.90" y1="143.2" x2="345.90" y2="144.6" stroke="#333" stroke-width="0.6"/>
<text x="224.10" y="244.4" text-anchor="middle" class="tk">ASFFOX</text>
<text x="241.50" y="244.4" text-anchor="middle" class="tk">FOX</text>
<text x="258.90" y="244.4" text-anchor="middle" class="tk">GWO</text>
<text x="276.30" y="244.4" text-anchor="middle" class="tk">HHO</text>
<text x="293.70" y="244.4" text-anchor="middle" class="tk">WOA</text>
<text x="311.10" y="244.4" text-anchor="middle" class="tk">DBO</text>
<text x="328.50" y="244.4" text-anchor="middle" class="tk">COA</text>
<text x="345.90" y="244.4" text-anchor="middle" class="tk">OOA</text>
<text x="285.00" y="251.5" text-anchor="middle" class="al">Algorithm</text>
<text x="200.10" y="190.05" text-anchor="middle" class="al" transform="rotate(-90 200.10 190.05)">Fitness value</text>
<text x="275.20" y="264.30" text-anchor="middle" class="tt" textLength="16.3" lengthAdjust="spacingAndGlyphs">F24</text>
<line x1="224.10" y1="217.4" x2="224.10" y2="211.4" stroke="#111" stroke-width="1.3" stroke-dasharray="3.0,2.7" stroke-dashoffset="0"/>
<line x1="222.30" y1="211.4" x2="225.90" y2="211.4" stroke="#111" stroke-width="1.3"/>
<line x1="224.10" y1="211.4" x2="224.10" y2="212.5" stroke="#111" stroke-width="1.3"/>
<line x1="224.10" y1="224.1" x2="224.10" y2="225.6" stroke="#111" stroke-width="1.3" stroke-dasharray="3.0,2.7" stroke-dashoffset="0"/>
<line x1="222.30" y1="225.6" x2="225.90" y2="225.6" stroke="#111" stroke-width="1.3"/>
<rect x="219.75" y="217.4" width="8.70" height="6.70" fill="#fff"/>
<rect x="219.75" y="217.4" width="8.70" height="6.70" fill="none" stroke="#111" stroke-width="1.1"/>
<line x1="219.75" y1="220.4" x2="228.45" y2="220.4" stroke="#222" stroke-width="0.9"/>
<line x1="241.50" y1="197.3" x2="241.50" y2="192.0" stroke="#111" stroke-width="1.3" stroke-dasharray="3.0,2.7" stroke-dashoffset="0"/>
<line x1="239.70" y1="192.0" x2="243.30" y2="192.0" stroke="#111" stroke-width="1.3"/>
<line x1="241.50" y1="192.0" x2="241.50" y2="193.1" stroke="#111" stroke-width="1.3"/>
<line x1="241.50" y1="202.4" x2="241.50" y2="207.8" stroke="#111" stroke-width="1.3" stroke-dasharray="3.0,2.7" stroke-dashoffset="0"/>
<line x1="239.70" y1="207.8" x2="243.30" y2="207.8" stroke="#111" stroke-width="1.3"/>
<line x1="241.50" y1="207.8" x2="241.50" y2="206.70000000000002" stroke="#111" stroke-width="1.3"/>
<rect x="237.15" y="197.3" width="8.70" height="5.10" fill="#ea08dc"/>
<rect x="237.15" y="197.3" width="8.70" height="5.10" fill="none" stroke="#111" stroke-width="1.1"/>
<line x1="258.90" y1="232.3" x2="258.90" y2="233.5" stroke="#111" stroke-width="1.3" stroke-dasharray="3.0,2.7" stroke-dashoffset="0"/>
<line x1="257.10" y1="233.5" x2="260.70" y2="233.5" stroke="#111" stroke-width="1.3"/>
<rect x="254.55" y="230.2" width="8.70" height="2.10" fill="#1a8a5a"/>
<rect x="254.55" y="230.2" width="8.70" height="2.10" fill="none" stroke="#111" stroke-width="1.1"/>
<circle cx="258.90" cy="224.1" r="1.8" fill="none" stroke="#111" stroke-width="1.2"/>
<circle cx="258.90" cy="226.9" r="1.8" fill="none" stroke="#111" stroke-width="1.2"/>
<circle cx="258.90" cy="228.6" r="1.8" fill="none" stroke="#111" stroke-width="1.2"/>
<line x1="276.30" y1="196.3" x2="276.30" y2="188.0" stroke="#111" stroke-width="1.3" stroke-dasharray="3.0,2.7" stroke-dashoffset="0"/>
<line x1="274.50" y1="188.0" x2="278.10" y2="188.0" stroke="#111" stroke-width="1.3"/>
<line x1="276.30" y1="188.0" x2="276.30" y2="189.1" stroke="#111" stroke-width="1.3"/>
<line x1="276.30" y1="203.4" x2="276.30" y2="211.3" stroke="#111" stroke-width="1.3" stroke-dasharray="3.0,2.7" stroke-dashoffset="0"/>
<line x1="274.50" y1="211.3" x2="278.10" y2="211.3" stroke="#111" stroke-width="1.3"/>
<line x1="276.30" y1="211.3" x2="276.30" y2="210.20000000000002" stroke="#111" stroke-width="1.3"/>
<rect x="271.95" y="196.3" width="8.70" height="7.10" fill="#fff"/>
<rect x="271.95" y="196.3" width="5.22" height="7.10" fill="#3b7ec4"/>
<rect x="271.95" y="196.3" width="8.70" height="7.10" fill="none" stroke="#111" stroke-width="1.1"/>
<circle cx="276.30" cy="176.7" r="1.8" fill="none" stroke="#111" stroke-width="1.2"/>
<circle cx="276.30" cy="220.7" r="1.8" fill="none" stroke="#111" stroke-width="1.2"/>
<line x1="293.70" y1="210.1" x2="293.70" y2="207.0" stroke="#111" stroke-width="1.3" stroke-dasharray="3.0,2.7" stroke-dashoffset="0"/>
<line x1="291.90" y1="207.0" x2="295.50" y2="207.0" stroke="#111" stroke-width="1.3"/>
<line x1="293.70" y1="215.9" x2="293.70" y2="218.8" stroke="#111" stroke-width="1.3" stroke-dasharray="3.0,2.7" stroke-dashoffset="0"/>
<line x1="291.90" y1="218.8" x2="295.50" y2="218.8" stroke="#111" stroke-width="1.3"/>
<rect x="289.35" y="210.1" width="8.70" height="5.80" fill="#f6907c"/>
<rect x="289.35" y="210.1" width="8.70" height="5.80" fill="none" stroke="#111" stroke-width="1.1"/>
<line x1="289.35" y1="213.3" x2="298.05" y2="213.3" stroke="#e0a090" stroke-width="0.9"/>
<circle cx="293.70" cy="202.3" r="1.8" fill="none" stroke="#111" stroke-width="1.2"/>
<line x1="311.10" y1="202.9" x2="311.10" y2="195.6" stroke="#111" stroke-width="1.3" stroke-dasharray="3.0,2.7" stroke-dashoffset="0"/>
<line x1="309.30" y1="195.6" x2="312.90" y2="195.6" stroke="#111" stroke-width="1.3"/>
<line x1="311.10" y1="195.6" x2="311.10" y2="196.7" stroke="#111" stroke-width="1.3"/>
<line x1="311.10" y1="210.7" x2="311.10" y2="215.9" stroke="#111" stroke-width="1.3" stroke-dasharray="3.0,2.7" stroke-dashoffset="0"/>
<line x1="309.30" y1="215.9" x2="312.90" y2="215.9" stroke="#111" stroke-width="1.3"/>
<line x1="311.10" y1="215.9" x2="311.10" y2="214.8" stroke="#111" stroke-width="1.3"/>
<rect x="306.75" y="202.9" width="8.70" height="7.80" fill="#fff"/>
<rect x="306.75" y="202.9" width="8.70" height="7.80" fill="none" stroke="#111" stroke-width="1.1"/>
<line x1="306.75" y1="205.9" x2="315.45" y2="205.9" stroke="#222" stroke-width="0.9"/>
<line x1="328.50" y1="186.6" x2="328.50" y2="176.7" stroke="#111" stroke-width="1.3" stroke-dasharray="3.0,2.7" stroke-dashoffset="0"/>
<line x1="326.70" y1="176.7" x2="330.30" y2="176.7" stroke="#111" stroke-width="1.3"/>
<line x1="328.50" y1="176.7" x2="328.50" y2="177.79999999999998" stroke="#111" stroke-width="1.3"/>
<line x1="328.50" y1="193.6" x2="328.50" y2="201.3" stroke="#111" stroke-width="1.3" stroke-dasharray="3.0,2.7" stroke-dashoffset="0"/>
<line x1="326.70" y1="201.3" x2="330.30" y2="201.3" stroke="#111" stroke-width="1.3"/>
<line x1="328.50" y1="201.3" x2="328.50" y2="200.20000000000002" stroke="#111" stroke-width="1.3"/>
<rect x="324.15" y="186.6" width="8.70" height="7.00" fill="#fff"/>
<rect x="324.15" y="186.6" width="8.70" height="7.00" fill="none" stroke="#111" stroke-width="1.1"/>
<line x1="324.15" y1="189.8" x2="332.85" y2="189.8" stroke="#222" stroke-width="0.9"/>
<circle cx="328.50" cy="169.4" r="1.8" fill="none" stroke="#111" stroke-width="1.2"/>
<line x1="345.90" y1="163.6" x2="345.90" y2="147.3" stroke="#111" stroke-width="1.3" stroke-dasharray="3.0,2.7" stroke-dashoffset="0"/>
<line x1="344.10" y1="147.3" x2="347.70" y2="147.3" stroke="#111" stroke-width="1.3"/>
<line x1="345.90" y1="147.3" x2="345.90" y2="148.4" stroke="#111" stroke-width="1.3"/>
<line x1="345.90" y1="181.3" x2="345.90" y2="190.3" stroke="#111" stroke-width="1.3" stroke-dasharray="3.0,2.7" stroke-dashoffset="0"/>
<line x1="344.10" y1="190.3" x2="347.70" y2="190.3" stroke="#111" stroke-width="1.3"/>
<line x1="345.90" y1="190.3" x2="345.90" y2="189.20000000000002" stroke="#111" stroke-width="1.3"/>
<rect x="341.55" y="163.6" width="8.70" height="17.70" fill="#fff"/>
<rect x="341.55" y="179.2" width="8.70" height="2.10" fill="#eade08"/>
<rect x="341.55" y="163.6" width="8.70" height="17.70" fill="none" stroke="#111" stroke-width="1.1"/>
<line x1="341.55" y1="169.7" x2="350.25" y2="169.7" stroke="#222" stroke-width="0.9"/>
<rect x="404.6" y="142.6" width="140.50" height="94.40" fill="none" stroke="#6a6a6a" stroke-width="0.85"/>
<line x1="404.6" y1="227.3" x2="406.0" y2="227.3" stroke="#333" stroke-width="0.6"/>
<line x1="545.1" y1="227.3" x2="543.7" y2="227.3" stroke="#333" stroke-width="0.6"/>
<text x="403.0" y="229.8" text-anchor="end" class="tk">0.4</text>
<line x1="404.6" y1="216.3" x2="406.0" y2="216.3" stroke="#333" stroke-width="0.6"/>
<line x1="545.1" y1="216.3" x2="543.7" y2="216.3" stroke="#333" stroke-width="0.6"/>
<text x="403.0" y="218.8" text-anchor="end" class="tk">0.6</text>
<line x1="404.6" y1="205.3" x2="406.0" y2="205.3" stroke="#333" stroke-width="0.6"/>
<line x1="545.1" y1="205.3" x2="543.7" y2="205.3" stroke="#333" stroke-width="0.6"/>
<text x="403.0" y="207.8" text-anchor="end" class="tk">0.8</text>
<line x1="404.6" y1="194.2" x2="406.0" y2="194.2" stroke="#333" stroke-width="0.6"/>
<line x1="545.1" y1="194.2" x2="543.7" y2="194.2" stroke="#333" stroke-width="0.6"/>
<text x="403.0" y="196.7" text-anchor="end" class="tk">1</text>
<line x1="404.6" y1="183.2" x2="406.0" y2="183.2" stroke="#333" stroke-width="0.6"/>
<line x1="545.1" y1="183.2" x2="543.7" y2="183.2" stroke="#333" stroke-width="0.6"/>
<text x="403.0" y="185.7" text-anchor="end" class="tk">1.2</text>
<line x1="404.6" y1="172.2" x2="406.0" y2="172.2" stroke="#333" stroke-width="0.6"/>
<line x1="545.1" y1="172.2" x2="543.7" y2="172.2" stroke="#333" stroke-width="0.6"/>
<text x="403.0" y="174.7" text-anchor="end" class="tk">1.4</text>
<line x1="404.6" y1="161.1" x2="406.0" y2="161.1" stroke="#333" stroke-width="0.6"/>
<line x1="545.1" y1="161.1" x2="543.7" y2="161.1" stroke="#333" stroke-width="0.6"/>
<text x="403.0" y="163.6" text-anchor="end" class="tk">1.6</text>
<line x1="404.6" y1="150.1" x2="406.0" y2="150.1" stroke="#333" stroke-width="0.6"/>
<line x1="545.1" y1="150.1" x2="543.7" y2="150.1" stroke="#333" stroke-width="0.6"/>
<text x="403.0" y="152.6" text-anchor="end" class="tk">1.8</text>
<line x1="413.38" y1="237.0" x2="413.38" y2="235.6" stroke="#333" stroke-width="0.6"/>
<line x1="413.38" y1="142.6" x2="413.38" y2="144.0" stroke="#333" stroke-width="0.6"/>
<line x1="430.94" y1="237.0" x2="430.94" y2="235.6" stroke="#333" stroke-width="0.6"/>
<line x1="430.94" y1="142.6" x2="430.94" y2="144.0" stroke="#333" stroke-width="0.6"/>
<line x1="448.51" y1="237.0" x2="448.51" y2="235.6" stroke="#333" stroke-width="0.6"/>
<line x1="448.51" y1="142.6" x2="448.51" y2="144.0" stroke="#333" stroke-width="0.6"/>
<line x1="466.07" y1="237.0" x2="466.07" y2="235.6" stroke="#333" stroke-width="0.6"/>
<line x1="466.07" y1="142.6" x2="466.07" y2="144.0" stroke="#333" stroke-width="0.6"/>
<line x1="483.63" y1="237.0" x2="483.63" y2="235.6" stroke="#333" stroke-width="0.6"/>
<line x1="483.63" y1="142.6" x2="483.63" y2="144.0" stroke="#333" stroke-width="0.6"/>
<line x1="501.19" y1="237.0" x2="501.19" y2="235.6" stroke="#333" stroke-width="0.6"/>
<line x1="501.19" y1="142.6" x2="501.19" y2="144.0" stroke="#333" stroke-width="0.6"/>
<line x1="518.76" y1="237.0" x2="518.76" y2="235.6" stroke="#333" stroke-width="0.6"/>
<line x1="518.76" y1="142.6" x2="518.76" y2="144.0" stroke="#333" stroke-width="0.6"/>
<line x1="536.32" y1="237.0" x2="536.32" y2="235.6" stroke="#333" stroke-width="0.6"/>
<line x1="536.32" y1="142.6" x2="536.32" y2="144.0" stroke="#333" stroke-width="0.6"/>
<text x="413.38" y="244.5" text-anchor="middle" class="tk">ASFFOX</text>
<text x="430.94" y="244.5" text-anchor="middle" class="tk">FOX</text>
<text x="448.51" y="244.5" text-anchor="middle" class="tk">GWO</text>
<text x="466.07" y="244.5" text-anchor="middle" class="tk">HHO</text>
<text x="483.63" y="244.5" text-anchor="middle" class="tk">WOA</text>
<text x="501.19" y="244.5" text-anchor="middle" class="tk">DBO</text>
<text x="518.76" y="244.5" text-anchor="middle" class="tk">COA</text>
<text x="536.32" y="244.5" text-anchor="middle" class="tk">OOA</text>
<text x="474.85" y="251.6" text-anchor="middle" class="al">Algorithm</text>
<text x="393.00" y="189.80" text-anchor="middle" class="al" transform="rotate(-90 393.00 189.80)">Fitness value</text>
<text x="467.80" y="264.70" text-anchor="middle" class="tt" textLength="16.8" lengthAdjust="spacingAndGlyphs">F25</text>
<text x="404.40000000000003" y="141.29999999999998" class="ex"><tspan font-size="7.6" fill="#222" dy="0.3">×</tspan><tspan dx="0.4">10</tspan><tspan dy="-2.2" font-size="3.6">4</tspan></text>
<rect x="408.99" y="231.7" width="8.78" height="0.90" fill="#111"/>
<rect x="408.99" y="231.7" width="8.78" height="0.90" fill="none" stroke="#111" stroke-width="1.1"/>
<rect x="426.55" y="230.9" width="8.78" height="1.30" fill="#111"/>
<rect x="426.55" y="230.9" width="8.78" height="1.30" fill="none" stroke="#111" stroke-width="1.1"/>
<circle cx="430.94" cy="229.8" r="1.8" fill="none" stroke="#111" stroke-width="1.2"/>
<line x1="448.51" y1="226.8" x2="448.51" y2="224.4" stroke="#111" stroke-width="1.3" stroke-dasharray="3.0,2.7" stroke-dashoffset="0"/>
<line x1="446.71" y1="224.4" x2="450.31" y2="224.4" stroke="#111" stroke-width="1.3"/>
<line x1="448.51" y1="230.6" x2="448.51" y2="231.8" stroke="#111" stroke-width="1.3" stroke-dasharray="3.0,2.7" stroke-dashoffset="0"/>
<line x1="446.71" y1="231.8" x2="450.31" y2="231.8" stroke="#111" stroke-width="1.3"/>
<rect x="444.12" y="226.8" width="8.78" height="3.80" fill="#22eea2"/>
<rect x="444.12" y="226.8" width="8.78" height="3.80" fill="none" stroke="#111" stroke-width="1.1"/>
<line x1="466.07" y1="228.1" x2="466.07" y2="226.8" stroke="#111" stroke-width="1.3" stroke-dasharray="3.0,2.7" stroke-dashoffset="0"/>
<line x1="464.27" y1="226.8" x2="467.87" y2="226.8" stroke="#111" stroke-width="1.3"/>
<line x1="466.07" y1="230.1" x2="466.07" y2="231.2" stroke="#111" stroke-width="1.3" stroke-dasharray="3.0,2.7" stroke-dashoffset="0"/>
<line x1="464.27" y1="231.2" x2="467.87" y2="231.2" stroke="#111" stroke-width="1.3"/>
<rect x="461.68" y="228.1" width="8.78" height="2.00" fill="#2c5a90"/>
<rect x="461.68" y="228.1" width="8.78" height="2.00" fill="none" stroke="#111" stroke-width="1.1"/>
<line x1="483.63" y1="219.1" x2="483.63" y2="216.2" stroke="#111" stroke-width="1.3" stroke-dasharray="3.0,2.7" stroke-dashoffset="0"/>
<line x1="481.83" y1="216.2" x2="485.43" y2="216.2" stroke="#111" stroke-width="1.3"/>
<line x1="483.63" y1="223.1" x2="483.63" y2="226.0" stroke="#111" stroke-width="1.3" stroke-dasharray="3.0,2.7" stroke-dashoffset="0"/>
<line x1="481.83" y1="226.0" x2="485.43" y2="226.0" stroke="#111" stroke-width="1.3"/>
<rect x="479.24" y="219.1" width="8.78" height="4.00" fill="#f6907c"/>
<rect x="479.24" y="219.1" width="8.78" height="4.00" fill="none" stroke="#111" stroke-width="1.1"/>
<line x1="479.24" y1="221.0" x2="488.02" y2="221.0" stroke="#e0a090" stroke-width="0.9"/>
<circle cx="483.63" cy="211.3" r="1.8" fill="none" stroke="#111" stroke-width="1.2"/>
<line x1="501.19" y1="180.8" x2="501.19" y2="174.4" stroke="#111" stroke-width="1.3" stroke-dasharray="3.0,2.7" stroke-dashoffset="0"/>
<line x1="499.39" y1="174.4" x2="502.99" y2="174.4" stroke="#111" stroke-width="1.3"/>
<line x1="501.19" y1="174.4" x2="501.19" y2="175.5" stroke="#111" stroke-width="1.3"/>
<line x1="501.19" y1="187.5" x2="501.19" y2="191.7" stroke="#111" stroke-width="1.3" stroke-dasharray="3.0,2.7" stroke-dashoffset="0"/>
<line x1="499.39" y1="191.7" x2="502.99" y2="191.7" stroke="#111" stroke-width="1.3"/>
<line x1="501.19" y1="191.7" x2="501.19" y2="190.6" stroke="#111" stroke-width="1.3"/>
<rect x="496.80" y="180.8" width="8.78" height="6.70" fill="#fff"/>
<rect x="503.65" y="180.8" width="1.93" height="6.70" fill="#f7ab1f"/>
<rect x="496.80" y="180.8" width="8.78" height="6.70" fill="none" stroke="#111" stroke-width="1.1"/>
<line x1="496.80" y1="183.5" x2="505.58" y2="183.5" stroke="#222" stroke-width="0.9"/>
<circle cx="501.19" cy="169.3" r="1.8" fill="none" stroke="#111" stroke-width="1.2"/>
<circle cx="501.19" cy="197.2" r="1.8" fill="none" stroke="#111" stroke-width="1.2"/>
<line x1="518.76" y1="155.6" x2="518.76" y2="147.4" stroke="#111" stroke-width="1.3" stroke-dasharray="3.0,2.7" stroke-dashoffset="0"/>
<line x1="516.96" y1="147.4" x2="520.56" y2="147.4" stroke="#111" stroke-width="1.3"/>
<line x1="518.76" y1="147.4" x2="518.76" y2="148.5" stroke="#111" stroke-width="1.3"/>
<line x1="518.76" y1="168.2" x2="518.76" y2="173.3" stroke="#111" stroke-width="1.3" stroke-dasharray="3.0,2.7" stroke-dashoffset="0"/>
<line x1="516.96" y1="173.3" x2="520.56" y2="173.3" stroke="#111" stroke-width="1.3"/>
<line x1="518.76" y1="173.3" x2="518.76" y2="172.20000000000002" stroke="#111" stroke-width="1.3"/>
<rect x="514.37" y="155.6" width="8.78" height="12.60" fill="#bc3b6c"/>
<rect x="521.39" y="155.6" width="1.05" height="12.60" fill="#f0d8e0"/>
<rect x="514.37" y="155.6" width="8.78" height="12.60" fill="none" stroke="#111" stroke-width="1.1"/>
<line x1="536.32" y1="156.0" x2="536.32" y2="147.4" stroke="#111" stroke-width="1.3" stroke-dasharray="3.0,2.7" stroke-dashoffset="0"/>
<line x1="534.52" y1="147.4" x2="538.12" y2="147.4" stroke="#111" stroke-width="1.3"/>
<line x1="536.32" y1="147.4" x2="536.32" y2="148.5" stroke="#111" stroke-width="1.3"/>
<line x1="536.32" y1="165.7" x2="536.32" y2="172.1" stroke="#111" stroke-width="1.3" stroke-dasharray="3.0,2.7" stroke-dashoffset="0"/>
<line x1="534.52" y1="172.1" x2="538.12" y2="172.1" stroke="#111" stroke-width="1.3"/>
<line x1="536.32" y1="172.1" x2="536.32" y2="171.0" stroke="#111" stroke-width="1.3"/>
<rect x="531.93" y="156.0" width="8.78" height="9.70" fill="#eade08"/>
<rect x="531.93" y="156.0" width="8.78" height="9.70" fill="none" stroke="#111" stroke-width="1.1"/>
<rect x="20.5" y="276.2" width="140.60" height="93.70" fill="none" stroke="#6a6a6a" stroke-width="0.85"/>
<line x1="20.5" y1="363.0" x2="21.9" y2="363.0" stroke="#333" stroke-width="0.6"/>
<line x1="161.1" y1="363.0" x2="159.7" y2="363.0" stroke="#333" stroke-width="0.6"/>
<text x="18.9" y="365.5" text-anchor="end" class="tk">0.4</text>
<line x1="20.5" y1="351.8" x2="21.9" y2="351.8" stroke="#333" stroke-width="0.6"/>
<line x1="161.1" y1="351.8" x2="159.7" y2="351.8" stroke="#333" stroke-width="0.6"/>
<text x="18.9" y="354.3" text-anchor="end" class="tk">0.6</text>
<line x1="20.5" y1="340.6" x2="21.9" y2="340.6" stroke="#333" stroke-width="0.6"/>
<line x1="161.1" y1="340.6" x2="159.7" y2="340.6" stroke="#333" stroke-width="0.6"/>
<text x="18.9" y="343.1" text-anchor="end" class="tk">0.8</text>
<line x1="20.5" y1="329.4" x2="21.9" y2="329.4" stroke="#333" stroke-width="0.6"/>
<line x1="161.1" y1="329.4" x2="159.7" y2="329.4" stroke="#333" stroke-width="0.6"/>
<text x="18.9" y="331.9" text-anchor="end" class="tk">1</text>
<line x1="20.5" y1="318.2" x2="21.9" y2="318.2" stroke="#333" stroke-width="0.6"/>
<line x1="161.1" y1="318.2" x2="159.7" y2="318.2" stroke="#333" stroke-width="0.6"/>
<text x="18.9" y="320.7" text-anchor="end" class="tk">1.2</text>
<line x1="20.5" y1="307.1" x2="21.9" y2="307.1" stroke="#333" stroke-width="0.6"/>
<line x1="161.1" y1="307.1" x2="159.7" y2="307.1" stroke="#333" stroke-width="0.6"/>
<text x="18.9" y="309.6" text-anchor="end" class="tk">1.4</text>
<line x1="20.5" y1="295.9" x2="21.9" y2="295.9" stroke="#333" stroke-width="0.6"/>
<line x1="161.1" y1="295.9" x2="159.7" y2="295.9" stroke="#333" stroke-width="0.6"/>
<text x="18.9" y="298.4" text-anchor="end" class="tk">1.6</text>
<line x1="20.5" y1="284.7" x2="21.9" y2="284.7" stroke="#333" stroke-width="0.6"/>
<line x1="161.1" y1="284.7" x2="159.7" y2="284.7" stroke="#333" stroke-width="0.6"/>
<text x="18.9" y="287.2" text-anchor="end" class="tk">1.8</text>
<line x1="29.29" y1="369.9" x2="29.29" y2="368.5" stroke="#333" stroke-width="0.6"/>
<line x1="29.29" y1="276.2" x2="29.29" y2="277.59999999999997" stroke="#333" stroke-width="0.6"/>
<line x1="46.86" y1="369.9" x2="46.86" y2="368.5" stroke="#333" stroke-width="0.6"/>
<line x1="46.86" y1="276.2" x2="46.86" y2="277.59999999999997" stroke="#333" stroke-width="0.6"/>
<line x1="64.44" y1="369.9" x2="64.44" y2="368.5" stroke="#333" stroke-width="0.6"/>
<line x1="64.44" y1="276.2" x2="64.44" y2="277.59999999999997" stroke="#333" stroke-width="0.6"/>
<line x1="82.01" y1="369.9" x2="82.01" y2="368.5" stroke="#333" stroke-width="0.6"/>
<line x1="82.01" y1="276.2" x2="82.01" y2="277.59999999999997" stroke="#333" stroke-width="0.6"/>
<line x1="99.59" y1="369.9" x2="99.59" y2="368.5" stroke="#333" stroke-width="0.6"/>
<line x1="99.59" y1="276.2" x2="99.59" y2="277.59999999999997" stroke="#333" stroke-width="0.6"/>
<line x1="117.16" y1="369.9" x2="117.16" y2="368.5" stroke="#333" stroke-width="0.6"/>
<line x1="117.16" y1="276.2" x2="117.16" y2="277.59999999999997" stroke="#333" stroke-width="0.6"/>
<line x1="134.74" y1="369.9" x2="134.74" y2="368.5" stroke="#333" stroke-width="0.6"/>
<line x1="134.74" y1="276.2" x2="134.74" y2="277.59999999999997" stroke="#333" stroke-width="0.6"/>
<line x1="152.31" y1="369.9" x2="152.31" y2="368.5" stroke="#333" stroke-width="0.6"/>
<line x1="152.31" y1="276.2" x2="152.31" y2="277.59999999999997" stroke="#333" stroke-width="0.6"/>
<text x="29.29" y="377.4" text-anchor="middle" class="tk">ASFFOX</text>
<text x="46.86" y="377.4" text-anchor="middle" class="tk">FOX</text>
<text x="64.44" y="377.4" text-anchor="middle" class="tk">GWO</text>
<text x="82.01" y="377.4" text-anchor="middle" class="tk">HHO</text>
<text x="99.59" y="377.4" text-anchor="middle" class="tk">WOA</text>
<text x="117.16" y="377.4" text-anchor="middle" class="tk">DBO</text>
<text x="134.74" y="377.4" text-anchor="middle" class="tk">COA</text>
<text x="152.31" y="377.4" text-anchor="middle" class="tk">OOA</text>
<text x="90.80" y="384.5" text-anchor="middle" class="al">Algorithm</text>
<text x="8.90" y="323.05" text-anchor="middle" class="al" transform="rotate(-90 8.90 323.05)">Fitness value</text>
<text x="83.00" y="398.80" text-anchor="middle" class="tt" textLength="16.3" lengthAdjust="spacingAndGlyphs">F26</text>
<text x="20.3" y="274.9" class="ex"><tspan font-size="7.6" fill="#222" dy="0.3">×</tspan><tspan dx="0.4">10</tspan><tspan dy="-2.2" font-size="3.6">4</tspan></text>
<line x1="29.29" y1="321.4" x2="29.29" y2="313.9" stroke="#111" stroke-width="1.3" stroke-dasharray="3.0,2.7" stroke-dashoffset="0"/>
<line x1="27.49" y1="313.9" x2="31.09" y2="313.9" stroke="#111" stroke-width="1.3"/>
<line x1="29.29" y1="313.9" x2="29.29" y2="315.0" stroke="#111" stroke-width="1.3"/>
<line x1="29.29" y1="337.6" x2="29.29" y2="359.8" stroke="#111" stroke-width="1.3" stroke-dasharray="3.0,2.7" stroke-dashoffset="0"/>
<line x1="27.49" y1="359.8" x2="31.09" y2="359.8" stroke="#111" stroke-width="1.3"/>
<line x1="29.29" y1="359.8" x2="29.29" y2="358.7" stroke="#111" stroke-width="1.3"/>
<rect x="24.89" y="321.4" width="8.79" height="16.20" fill="#fff"/>
<rect x="26.65" y="321.4" width="7.03" height="16.20" fill="#82ee2a"/>
<rect x="24.89" y="321.4" width="8.79" height="16.20" fill="none" stroke="#111" stroke-width="1.1"/>
<line x1="24.89" y1="329.3" x2="26.65" y2="329.3" stroke="#222" stroke-width="0.9"/>
<circle cx="29.29" cy="363.4" r="1.8" fill="none" stroke="#111" stroke-width="1.2"/>
<circle cx="29.29" cy="365.0" r="1.8" fill="none" stroke="#111" stroke-width="1.2"/>
<circle cx="29.29" cy="367.0" r="1.8" fill="none" stroke="#111" stroke-width="1.2"/>
<line x1="46.86" y1="314.5" x2="46.86" y2="308.0" stroke="#111" stroke-width="1.3" stroke-dasharray="3.0,2.7" stroke-dashoffset="0"/>
<line x1="45.06" y1="308.0" x2="48.66" y2="308.0" stroke="#111" stroke-width="1.3"/>
<line x1="46.86" y1="308.0" x2="46.86" y2="309.1" stroke="#111" stroke-width="1.3"/>
<line x1="46.86" y1="319.1" x2="46.86" y2="321.0" stroke="#111" stroke-width="1.3" stroke-dasharray="3.0,2.7" stroke-dashoffset="0"/>
<line x1="45.06" y1="321.0" x2="48.66" y2="321.0" stroke="#111" stroke-width="1.3"/>
<rect x="42.47" y="314.5" width="8.79" height="4.60" fill="#ea08dc"/>
<rect x="42.47" y="314.5" width="8.79" height="4.60" fill="none" stroke="#111" stroke-width="1.1"/>
<circle cx="46.86" cy="327.4" r="1.8" fill="none" stroke="#111" stroke-width="1.2"/>
<line x1="64.44" y1="344.5" x2="64.44" y2="342.1" stroke="#111" stroke-width="1.3" stroke-dasharray="3.0,2.7" stroke-dashoffset="0"/>
<line x1="62.64" y1="342.1" x2="66.24" y2="342.1" stroke="#111" stroke-width="1.3"/>
<line x1="64.44" y1="348.6" x2="64.44" y2="352.7" stroke="#111" stroke-width="1.3" stroke-dasharray="3.0,2.7" stroke-dashoffset="0"/>
<line x1="62.64" y1="352.7" x2="66.24" y2="352.7" stroke="#111" stroke-width="1.3"/>
<line x1="64.44" y1="352.7" x2="64.44" y2="351.59999999999997" stroke="#111" stroke-width="1.3"/>
<rect x="60.04" y="344.5" width="8.79" height="4.10" fill="#999"/>
<rect x="60.04" y="344.5" width="3.08" height="4.10" fill="#22eea2"/>
<rect x="60.04" y="344.5" width="8.79" height="4.10" fill="none" stroke="#111" stroke-width="1.1"/>
<circle cx="64.44" cy="329.3" r="1.8" fill="none" stroke="#111" stroke-width="1.2"/>
<circle cx="64.44" cy="338.3" r="1.8" fill="none" stroke="#111" stroke-width="1.2"/>
<line x1="82.01" y1="314.2" x2="82.01" y2="309.8" stroke="#111" stroke-width="1.3" stroke-dasharray="3.0,2.7" stroke-dashoffset="0"/>
<line x1="80.21" y1="309.8" x2="83.81" y2="309.8" stroke="#111" stroke-width="1.3"/>
<line x1="82.01" y1="309.8" x2="82.01" y2="310.90000000000003" stroke="#111" stroke-width="1.3"/>
<line x1="82.01" y1="323.1" x2="82.01" y2="329.8" stroke="#111" stroke-width="1.3" stroke-dasharray="3.0,2.7" stroke-dashoffset="0"/>
<line x1="80.21" y1="329.8" x2="83.81" y2="329.8" stroke="#111" stroke-width="1.3"/>
<line x1="82.01" y1="329.8" x2="82.01" y2="328.7" stroke="#111" stroke-width="1.3"/>
<rect x="77.62" y="314.2" width="8.79" height="8.90" fill="#fff"/>
<rect x="77.62" y="314.2" width="8.79" height="8.90" fill="none" stroke="#111" stroke-width="1.1"/>
<line x1="77.62" y1="318.3" x2="86.41" y2="318.3" stroke="#222" stroke-width="0.9"/>
<circle cx="82.01" cy="335.9" r="1.8" fill="none" stroke="#111" stroke-width="1.2"/>
<line x1="99.59" y1="297.8" x2="99.59" y2="289.6" stroke="#111" stroke-width="1.3" stroke-dasharray="3.0,2.7" stroke-dashoffset="0"/>
<line x1="97.79" y1="289.6" x2="101.39" y2="289.6" stroke="#111" stroke-width="1.3"/>
<line x1="99.59" y1="289.6" x2="99.59" y2="290.70000000000005" stroke="#111" stroke-width="1.3"/>
<line x1="99.59" y1="308.0" x2="99.59" y2="319.6" stroke="#111" stroke-width="1.3" stroke-dasharray="3.0,2.7" stroke-dashoffset="0"/>
<line x1="97.79" y1="319.6" x2="101.39" y2="319.6" stroke="#111" stroke-width="1.3"/>
<line x1="99.59" y1="319.6" x2="99.59" y2="318.5" stroke="#111" stroke-width="1.3"/>
<rect x="95.19" y="297.8" width="8.79" height="10.20" fill="#f6907c"/>
<rect x="95.19" y="297.8" width="8.79" height="10.20" fill="none" stroke="#111" stroke-width="1.1"/>
<line x1="117.16" y1="301.7" x2="117.16" y2="295.6" stroke="#111" stroke-width="1.3" stroke-dasharray="3.0,2.7" stroke-dashoffset="0"/>
<line x1="115.36" y1="295.6" x2="118.96" y2="295.6" stroke="#111" stroke-width="1.3"/>
<line x1="117.16" y1="295.6" x2="117.16" y2="296.70000000000005" stroke="#111" stroke-width="1.3"/>
<line x1="117.16" y1="307.4" x2="117.16" y2="311.3" stroke="#111" stroke-width="1.3" stroke-dasharray="3.0,2.7" stroke-dashoffset="0"/>
<line x1="115.36" y1="311.3" x2="118.96" y2="311.3" stroke="#111" stroke-width="1.3"/>
<rect x="112.77" y="301.7" width="8.79" height="5.70" fill="#fff"/>
<rect x="117.16" y="301.7" width="4.39" height="5.70" fill="#f7ab1f"/>
<rect x="112.77" y="301.7" width="4.39" height="2.80" fill="#ccc"/>
<rect x="112.77" y="301.7" width="8.79" height="5.70" fill="none" stroke="#111" stroke-width="1.1"/>
<line x1="112.77" y1="304.5" x2="121.56" y2="304.5" stroke="#222" stroke-width="0.9"/>
<line x1="134.74" y1="284.3" x2="134.74" y2="280.4" stroke="#111" stroke-width="1.3" stroke-dasharray="3.0,2.7" stroke-dashoffset="0"/>
<line x1="132.94" y1="280.4" x2="136.54" y2="280.4" stroke="#111" stroke-width="1.3"/>
<line x1="134.74" y1="288.8" x2="134.74" y2="293.5" stroke="#111" stroke-width="1.3" stroke-dasharray="3.0,2.7" stroke-dashoffset="0"/>
<line x1="132.94" y1="293.5" x2="136.54" y2="293.5" stroke="#111" stroke-width="1.3"/>
<line x1="134.74" y1="293.5" x2="134.74" y2="292.4" stroke="#111" stroke-width="1.3"/>
<rect x="130.34" y="284.3" width="8.79" height="4.50" fill="#bc3b6c"/>
<rect x="130.34" y="284.3" width="8.79" height="4.50" fill="none" stroke="#111" stroke-width="1.1"/>
<line x1="130.34" y1="286.6" x2="139.13" y2="286.6" stroke="#e890b0" stroke-width="0.9"/>
<line x1="152.31" y1="285.3" x2="152.31" y2="280.4" stroke="#111" stroke-width="1.3" stroke-dasharray="3.0,2.7" stroke-dashoffset="0"/>
<line x1="150.51" y1="280.4" x2="154.11" y2="280.4" stroke="#111" stroke-width="1.3"/>
<line x1="152.31" y1="280.4" x2="152.31" y2="281.5" stroke="#111" stroke-width="1.3"/>
<line x1="152.31" y1="290.7" x2="152.31" y2="297.1" stroke="#111" stroke-width="1.3" stroke-dasharray="3.0,2.7" stroke-dashoffset="0"/>
<line x1="150.51" y1="297.1" x2="154.11" y2="297.1" stroke="#111" stroke-width="1.3"/>
<line x1="152.31" y1="297.1" x2="152.31" y2="296.0" stroke="#111" stroke-width="1.3"/>
<rect x="147.92" y="285.3" width="8.79" height="5.40" fill="#fff"/>
<rect x="153.89" y="285.3" width="2.81" height="4.20" fill="#eade08"/>
<rect x="147.92" y="285.3" width="8.79" height="5.40" fill="none" stroke="#111" stroke-width="1.1"/>
<line x1="147.92" y1="287.8" x2="156.71" y2="287.8" stroke="#222" stroke-width="0.9"/>
<rect x="215.0" y="274.4" width="139.30" height="93.60" fill="none" stroke="#6a6a6a" stroke-width="0.85"/>
<line x1="215.0" y1="355.7" x2="216.4" y2="355.7" stroke="#333" stroke-width="0.6"/>
<line x1="354.3" y1="355.7" x2="352.90000000000003" y2="355.7" stroke="#333" stroke-width="0.6"/>
<text x="213.4" y="358.2" text-anchor="end" class="tk">4000</text>
<line x1="215.0" y1="341.6" x2="216.4" y2="341.6" stroke="#333" stroke-width="0.6"/>
<line x1="354.3" y1="341.6" x2="352.90000000000003" y2="341.6" stroke="#333" stroke-width="0.6"/>
<text x="213.4" y="344.1" text-anchor="end" class="tk">5000</text>
<line x1="215.0" y1="327.6" x2="216.4" y2="327.6" stroke="#333" stroke-width="0.6"/>
<line x1="354.3" y1="327.6" x2="352.90000000000003" y2="327.6" stroke="#333" stroke-width="0.6"/>
<text x="213.4" y="330.1" text-anchor="end" class="tk">6000</text>
<line x1="215.0" y1="313.6" x2="216.4" y2="313.6" stroke="#333" stroke-width="0.6"/>
<line x1="354.3" y1="313.6" x2="352.90000000000003" y2="313.6" stroke="#333" stroke-width="0.6"/>
<text x="213.4" y="316.1" text-anchor="end" class="tk">7000</text>
<line x1="215.0" y1="299.5" x2="216.4" y2="299.5" stroke="#333" stroke-width="0.6"/>
<line x1="354.3" y1="299.5" x2="352.90000000000003" y2="299.5" stroke="#333" stroke-width="0.6"/>
<text x="213.4" y="302.0" text-anchor="end" class="tk">8000</text>
<line x1="215.0" y1="285.5" x2="216.4" y2="285.5" stroke="#333" stroke-width="0.6"/>
<line x1="354.3" y1="285.5" x2="352.90000000000003" y2="285.5" stroke="#333" stroke-width="0.6"/>
<text x="213.4" y="288.0" text-anchor="end" class="tk">9000</text>
<line x1="223.71" y1="368.0" x2="223.71" y2="366.6" stroke="#333" stroke-width="0.6"/>
<line x1="223.71" y1="274.4" x2="223.71" y2="275.79999999999995" stroke="#333" stroke-width="0.6"/>
<line x1="241.12" y1="368.0" x2="241.12" y2="366.6" stroke="#333" stroke-width="0.6"/>
<line x1="241.12" y1="274.4" x2="241.12" y2="275.79999999999995" stroke="#333" stroke-width="0.6"/>
<line x1="258.53" y1="368.0" x2="258.53" y2="366.6" stroke="#333" stroke-width="0.6"/>
<line x1="258.53" y1="274.4" x2="258.53" y2="275.79999999999995" stroke="#333" stroke-width="0.6"/>
<line x1="275.94" y1="368.0" x2="275.94" y2="366.6" stroke="#333" stroke-width="0.6"/>
<line x1="275.94" y1="274.4" x2="275.94" y2="275.79999999999995" stroke="#333" stroke-width="0.6"/>
<line x1="293.36" y1="368.0" x2="293.36" y2="366.6" stroke="#333" stroke-width="0.6"/>
<line x1="293.36" y1="274.4" x2="293.36" y2="275.79999999999995" stroke="#333" stroke-width="0.6"/>
<line x1="310.77" y1="368.0" x2="310.77" y2="366.6" stroke="#333" stroke-width="0.6"/>
<line x1="310.77" y1="274.4" x2="310.77" y2="275.79999999999995" stroke="#333" stroke-width="0.6"/>
<line x1="328.18" y1="368.0" x2="328.18" y2="366.6" stroke="#333" stroke-width="0.6"/>
<line x1="328.18" y1="274.4" x2="328.18" y2="275.79999999999995" stroke="#333" stroke-width="0.6"/>
<line x1="345.59" y1="368.0" x2="345.59" y2="366.6" stroke="#333" stroke-width="0.6"/>
<line x1="345.59" y1="274.4" x2="345.59" y2="275.79999999999995" stroke="#333" stroke-width="0.6"/>
<text x="223.71" y="375.5" text-anchor="middle" class="tk">ASFFOX</text>
<text x="241.12" y="375.5" text-anchor="middle" class="tk">FOX</text>
<text x="258.53" y="375.5" text-anchor="middle" class="tk">GWO</text>
<text x="275.94" y="375.5" text-anchor="middle" class="tk">HHO</text>
<text x="293.36" y="375.5" text-anchor="middle" class="tk">WOA</text>
<text x="310.77" y="375.5" text-anchor="middle" class="tk">DBO</text>
<text x="328.18" y="375.5" text-anchor="middle" class="tk">COA</text>
<text x="345.59" y="375.5" text-anchor="middle" class="tk">OOA</text>
<text x="284.65" y="382.6" text-anchor="middle" class="al">Algorithm</text>
<text x="199.70" y="321.20" text-anchor="middle" class="al" transform="rotate(-90 199.70 321.20)">Fitness value</text>
<text x="275.40" y="395.90" text-anchor="middle" class="tt" textLength="16.8" lengthAdjust="spacingAndGlyphs">F27</text>
<line x1="223.71" y1="357.6" x2="223.71" y2="354.9" stroke="#111" stroke-width="1.3" stroke-dasharray="3.0,2.7" stroke-dashoffset="0"/>
<line x1="221.91" y1="354.9" x2="225.51" y2="354.9" stroke="#111" stroke-width="1.3"/>
<line x1="223.71" y1="360.6" x2="223.71" y2="362.9" stroke="#111" stroke-width="1.3" stroke-dasharray="3.0,2.7" stroke-dashoffset="0"/>
<line x1="221.91" y1="362.9" x2="225.51" y2="362.9" stroke="#111" stroke-width="1.3"/>
<rect x="219.35" y="357.6" width="8.71" height="3.00" fill="#82ee2a"/>
<rect x="219.35" y="357.6" width="8.71" height="3.00" fill="none" stroke="#111" stroke-width="1.1"/>
<line x1="219.35" y1="359.3" x2="228.06" y2="359.3" stroke="#4c8a28" stroke-width="0.9"/>
<line x1="241.12" y1="320.7" x2="241.12" y2="300.6" stroke="#111" stroke-width="1.3" stroke-dasharray="3.0,2.7" stroke-dashoffset="0"/>
<line x1="239.32" y1="300.6" x2="242.92" y2="300.6" stroke="#111" stroke-width="1.3"/>
<line x1="241.12" y1="300.6" x2="241.12" y2="301.70000000000005" stroke="#111" stroke-width="1.3"/>
<line x1="241.12" y1="337.3" x2="241.12" y2="343.7" stroke="#111" stroke-width="1.3" stroke-dasharray="3.0,2.7" stroke-dashoffset="0"/>
<line x1="239.32" y1="343.7" x2="242.92" y2="343.7" stroke="#111" stroke-width="1.3"/>
<line x1="241.12" y1="343.7" x2="241.12" y2="342.59999999999997" stroke="#111" stroke-width="1.3"/>
<rect x="236.77" y="320.7" width="8.71" height="16.60" fill="#fff"/>
<rect x="236.77" y="320.7" width="8.71" height="16.60" fill="none" stroke="#111" stroke-width="1.1"/>
<line x1="236.77" y1="330.2" x2="245.47" y2="330.2" stroke="#222" stroke-width="0.9"/>
<rect x="254.18" y="359.3" width="8.71" height="1.60" fill="#1a8a5a"/>
<rect x="254.18" y="359.3" width="8.71" height="1.60" fill="none" stroke="#111" stroke-width="1.1"/>
<circle cx="258.53" cy="353.6" r="1.8" fill="none" stroke="#111" stroke-width="1.2"/>
<circle cx="258.53" cy="355.2" r="1.8" fill="none" stroke="#111" stroke-width="1.2"/>
<circle cx="258.53" cy="356.8" r="1.8" fill="none" stroke="#111" stroke-width="1.2"/>
<circle cx="258.53" cy="363.9" r="1.8" fill="none" stroke="#111" stroke-width="1.2"/>
<line x1="275.94" y1="337.1" x2="275.94" y2="329.1" stroke="#111" stroke-width="1.3" stroke-dasharray="3.0,2.7" stroke-dashoffset="0"/>
<line x1="274.14" y1="329.1" x2="277.74" y2="329.1" stroke="#111" stroke-width="1.3"/>
<line x1="275.94" y1="329.1" x2="275.94" y2="330.20000000000005" stroke="#111" stroke-width="1.3"/>
<line x1="275.94" y1="347.5" x2="275.94" y2="351.8" stroke="#111" stroke-width="1.3" stroke-dasharray="3.0,2.7" stroke-dashoffset="0"/>
<line x1="274.14" y1="351.8" x2="277.74" y2="351.8" stroke="#111" stroke-width="1.3"/>
<line x1="275.94" y1="351.8" x2="275.94" y2="350.7" stroke="#111" stroke-width="1.3"/>
<rect x="271.59" y="337.1" width="8.71" height="10.40" fill="#3b7ec4"/>
<rect x="271.59" y="337.1" width="8.71" height="10.40" fill="none" stroke="#111" stroke-width="1.1"/>
<circle cx="275.94" cy="311.2" r="1.8" fill="none" stroke="#111" stroke-width="1.2"/>
<line x1="293.36" y1="336.6" x2="293.36" y2="323.1" stroke="#111" stroke-width="1.3" stroke-dasharray="3.0,2.7" stroke-dashoffset="0"/>
<line x1="291.56" y1="323.1" x2="295.16" y2="323.1" stroke="#111" stroke-width="1.3"/>
<line x1="293.36" y1="323.1" x2="293.36" y2="324.20000000000005" stroke="#111" stroke-width="1.3"/>
<line x1="293.36" y1="347.5" x2="293.36" y2="357.0" stroke="#111" stroke-width="1.3" stroke-dasharray="3.0,2.7" stroke-dashoffset="0"/>
<line x1="291.56" y1="357.0" x2="295.16" y2="357.0" stroke="#111" stroke-width="1.3"/>
<line x1="293.36" y1="357.0" x2="293.36" y2="355.9" stroke="#111" stroke-width="1.3"/>
<rect x="289.00" y="336.6" width="8.71" height="10.90" fill="#f6907c"/>
<rect x="289.00" y="336.6" width="8.71" height="10.90" fill="none" stroke="#111" stroke-width="1.1"/>
<circle cx="293.36" cy="318.9" r="1.8" fill="none" stroke="#111" stroke-width="1.2"/>
<line x1="310.77" y1="335.9" x2="310.77" y2="331.6" stroke="#111" stroke-width="1.3" stroke-dasharray="3.0,2.7" stroke-dashoffset="0"/>
<line x1="308.97" y1="331.6" x2="312.57" y2="331.6" stroke="#111" stroke-width="1.3"/>
<line x1="310.77" y1="331.6" x2="310.77" y2="332.70000000000005" stroke="#111" stroke-width="1.3"/>
<line x1="310.77" y1="342.7" x2="310.77" y2="346.8" stroke="#111" stroke-width="1.3" stroke-dasharray="3.0,2.7" stroke-dashoffset="0"/>
<line x1="308.97" y1="346.8" x2="312.57" y2="346.8" stroke="#111" stroke-width="1.3"/>
<line x1="310.77" y1="346.8" x2="310.77" y2="345.7" stroke="#111" stroke-width="1.3"/>
<rect x="306.42" y="335.9" width="8.71" height="6.80" fill="#f7ab1f"/>
<rect x="306.42" y="335.9" width="8.71" height="6.80" fill="none" stroke="#111" stroke-width="1.1"/>
<circle cx="310.77" cy="354.6" r="1.8" fill="none" stroke="#111" stroke-width="1.2"/>
<line x1="328.18" y1="309.3" x2="328.18" y2="304.0" stroke="#111" stroke-width="1.3" stroke-dasharray="3.0,2.7" stroke-dashoffset="0"/>
<line x1="326.38" y1="304.0" x2="329.98" y2="304.0" stroke="#111" stroke-width="1.3"/>
<line x1="328.18" y1="304.0" x2="328.18" y2="305.1" stroke="#111" stroke-width="1.3"/>
<line x1="328.18" y1="323.2" x2="328.18" y2="331.4" stroke="#111" stroke-width="1.3" stroke-dasharray="3.0,2.7" stroke-dashoffset="0"/>
<line x1="326.38" y1="331.4" x2="329.98" y2="331.4" stroke="#111" stroke-width="1.3"/>
<line x1="328.18" y1="331.4" x2="328.18" y2="330.29999999999995" stroke="#111" stroke-width="1.3"/>
<rect x="323.83" y="309.3" width="8.71" height="13.90" fill="#fff"/>
<rect x="323.83" y="309.3" width="1.04" height="13.90" fill="#bc3b6c"/>
<rect x="323.83" y="309.3" width="8.71" height="13.90" fill="none" stroke="#111" stroke-width="1.1"/>
<line x1="323.83" y1="317.5" x2="332.53" y2="317.5" stroke="#222" stroke-width="0.9"/>
<line x1="345.59" y1="292.6" x2="345.59" y2="279.3" stroke="#111" stroke-width="1.3" stroke-dasharray="3.0,2.7" stroke-dashoffset="0"/>
<line x1="343.79" y1="279.3" x2="347.39" y2="279.3" stroke="#111" stroke-width="1.3"/>
<line x1="345.59" y1="279.3" x2="345.59" y2="280.40000000000003" stroke="#111" stroke-width="1.3"/>
<line x1="345.59" y1="306.0" x2="345.59" y2="316.6" stroke="#111" stroke-width="1.3" stroke-dasharray="3.0,2.7" stroke-dashoffset="0"/>
<line x1="343.79" y1="316.6" x2="347.39" y2="316.6" stroke="#111" stroke-width="1.3"/>
<line x1="345.59" y1="316.6" x2="345.59" y2="315.5" stroke="#111" stroke-width="1.3"/>
<rect x="341.24" y="292.6" width="8.71" height="13.40" fill="#fff"/>
<rect x="342.55" y="292.6" width="7.40" height="13.40" fill="#eade08"/>
<rect x="341.24" y="292.6" width="8.71" height="13.40" fill="none" stroke="#111" stroke-width="1.1"/>
<line x1="341.24" y1="299.8" x2="349.95" y2="299.8" stroke="#555" stroke-width="0.9"/>
<rect x="405.3" y="276.3" width="139.50" height="95.70" fill="none" stroke="#6a6a6a" stroke-width="0.85"/>
<line x1="405.3" y1="363.4" x2="406.7" y2="363.4" stroke="#333" stroke-width="0.6"/>
<line x1="544.8" y1="363.4" x2="543.4" y2="363.4" stroke="#333" stroke-width="0.6"/>
<text x="403.7" y="365.9" text-anchor="end" class="tk">0.4</text>
<line x1="405.3" y1="350.6" x2="406.7" y2="350.6" stroke="#333" stroke-width="0.6"/>
<line x1="544.8" y1="350.6" x2="543.4" y2="350.6" stroke="#333" stroke-width="0.6"/>
<text x="403.7" y="353.1" text-anchor="end" class="tk">0.6</text>
<line x1="405.3" y1="337.8" x2="406.7" y2="337.8" stroke="#333" stroke-width="0.6"/>
<line x1="544.8" y1="337.8" x2="543.4" y2="337.8" stroke="#333" stroke-width="0.6"/>
<text x="403.7" y="340.3" text-anchor="end" class="tk">0.8</text>
<line x1="405.3" y1="325.0" x2="406.7" y2="325.0" stroke="#333" stroke-width="0.6"/>
<line x1="544.8" y1="325.0" x2="543.4" y2="325.0" stroke="#333" stroke-width="0.6"/>
<text x="403.7" y="327.5" text-anchor="end" class="tk">1</text>
<line x1="405.3" y1="312.3" x2="406.7" y2="312.3" stroke="#333" stroke-width="0.6"/>
<line x1="544.8" y1="312.3" x2="543.4" y2="312.3" stroke="#333" stroke-width="0.6"/>
<text x="403.7" y="314.8" text-anchor="end" class="tk">1.2</text>
<line x1="405.3" y1="299.5" x2="406.7" y2="299.5" stroke="#333" stroke-width="0.6"/>
<line x1="544.8" y1="299.5" x2="543.4" y2="299.5" stroke="#333" stroke-width="0.6"/>
<text x="403.7" y="302.0" text-anchor="end" class="tk">1.4</text>
<line x1="405.3" y1="286.7" x2="406.7" y2="286.7" stroke="#333" stroke-width="0.6"/>
<line x1="544.8" y1="286.7" x2="543.4" y2="286.7" stroke="#333" stroke-width="0.6"/>
<text x="403.7" y="289.2" text-anchor="end" class="tk">1.6</text>
<line x1="414.02" y1="372.0" x2="414.02" y2="370.6" stroke="#333" stroke-width="0.6"/>
<line x1="414.02" y1="276.3" x2="414.02" y2="277.7" stroke="#333" stroke-width="0.6"/>
<line x1="431.46" y1="372.0" x2="431.46" y2="370.6" stroke="#333" stroke-width="0.6"/>
<line x1="431.46" y1="276.3" x2="431.46" y2="277.7" stroke="#333" stroke-width="0.6"/>
<line x1="448.89" y1="372.0" x2="448.89" y2="370.6" stroke="#333" stroke-width="0.6"/>
<line x1="448.89" y1="276.3" x2="448.89" y2="277.7" stroke="#333" stroke-width="0.6"/>
<line x1="466.33" y1="372.0" x2="466.33" y2="370.6" stroke="#333" stroke-width="0.6"/>
<line x1="466.33" y1="276.3" x2="466.33" y2="277.7" stroke="#333" stroke-width="0.6"/>
<line x1="483.77" y1="372.0" x2="483.77" y2="370.6" stroke="#333" stroke-width="0.6"/>
<line x1="483.77" y1="276.3" x2="483.77" y2="277.7" stroke="#333" stroke-width="0.6"/>
<line x1="501.21" y1="372.0" x2="501.21" y2="370.6" stroke="#333" stroke-width="0.6"/>
<line x1="501.21" y1="276.3" x2="501.21" y2="277.7" stroke="#333" stroke-width="0.6"/>
<line x1="518.64" y1="372.0" x2="518.64" y2="370.6" stroke="#333" stroke-width="0.6"/>
<line x1="518.64" y1="276.3" x2="518.64" y2="277.7" stroke="#333" stroke-width="0.6"/>
<line x1="536.08" y1="372.0" x2="536.08" y2="370.6" stroke="#333" stroke-width="0.6"/>
<line x1="536.08" y1="276.3" x2="536.08" y2="277.7" stroke="#333" stroke-width="0.6"/>
<text x="414.02" y="379.5" text-anchor="middle" class="tk">ASFFOX</text>
<text x="431.46" y="379.5" text-anchor="middle" class="tk">FOX</text>
<text x="448.89" y="379.5" text-anchor="middle" class="tk">GWO</text>
<text x="466.33" y="379.5" text-anchor="middle" class="tk">HHO</text>
<text x="483.77" y="379.5" text-anchor="middle" class="tk">WOA</text>
<text x="501.21" y="379.5" text-anchor="middle" class="tk">DBO</text>
<text x="518.64" y="379.5" text-anchor="middle" class="tk">COA</text>
<text x="536.08" y="379.5" text-anchor="middle" class="tk">OOA</text>
<text x="475.05" y="386.6" text-anchor="middle" class="al">Algorithm</text>
<text x="393.70" y="324.15" text-anchor="middle" class="al" transform="rotate(-90 393.70 324.15)">Fitness value</text>
<text x="467.90" y="399.20" text-anchor="middle" class="tt" textLength="17.0" lengthAdjust="spacingAndGlyphs">F28</text>
<text x="405.1" y="275.0" class="ex"><tspan font-size="7.6" fill="#222" dy="0.3">×</tspan><tspan dx="0.4">10</tspan><tspan dy="-2.2" font-size="3.6">4</tspan></text>
<line x1="414.02" y1="366.3" x2="414.02" y2="365.6" stroke="#111" stroke-width="1.3" stroke-dasharray="3.0,2.7" stroke-dashoffset="0"/>
<line x1="412.22" y1="365.6" x2="415.82" y2="365.6" stroke="#111" stroke-width="1.3"/>
<line x1="414.02" y1="367.8" x2="414.02" y2="368.3" stroke="#111" stroke-width="1.3" stroke-dasharray="3.0,2.7" stroke-dashoffset="0"/>
<line x1="412.22" y1="368.3" x2="415.82" y2="368.3" stroke="#111" stroke-width="1.3"/>
<rect x="409.66" y="366.3" width="8.72" height="1.50" fill="#111"/>
<rect x="409.66" y="366.3" width="8.72" height="1.50" fill="none" stroke="#111" stroke-width="1.1"/>
<rect x="427.10" y="361.7" width="8.72" height="1.30" fill="#111"/>
<rect x="427.10" y="361.7" width="8.72" height="1.30" fill="none" stroke="#111" stroke-width="1.1"/>
<circle cx="431.46" cy="356.3" r="1.8" fill="none" stroke="#111" stroke-width="1.2"/>
<circle cx="431.46" cy="359.0" r="1.8" fill="none" stroke="#111" stroke-width="1.2"/>
<line x1="448.89" y1="358.3" x2="448.89" y2="353.6" stroke="#111" stroke-width="1.3" stroke-dasharray="3.0,2.7" stroke-dashoffset="0"/>
<line x1="447.09" y1="353.6" x2="450.69" y2="353.6" stroke="#111" stroke-width="1.3"/>
<line x1="448.89" y1="353.6" x2="448.89" y2="354.70000000000005" stroke="#111" stroke-width="1.3"/>
<line x1="448.89" y1="361.8" x2="448.89" y2="365.5" stroke="#111" stroke-width="1.3" stroke-dasharray="3.0,2.7" stroke-dashoffset="0"/>
<line x1="447.09" y1="365.5" x2="450.69" y2="365.5" stroke="#111" stroke-width="1.3"/>
<rect x="444.53" y="358.3" width="8.72" height="3.50" fill="#fff"/>
<rect x="444.53" y="358.3" width="5.23" height="3.50" fill="#22eea2"/>
<rect x="444.53" y="358.3" width="8.72" height="3.50" fill="none" stroke="#111" stroke-width="1.1"/>
<line x1="444.53" y1="359.8" x2="453.25" y2="359.8" stroke="#222" stroke-width="0.9"/>
<line x1="466.33" y1="356.8" x2="466.33" y2="353.6" stroke="#111" stroke-width="1.3" stroke-dasharray="3.0,2.7" stroke-dashoffset="0"/>
<line x1="464.53" y1="353.6" x2="468.13" y2="353.6" stroke="#111" stroke-width="1.3"/>
<line x1="466.33" y1="360.9" x2="466.33" y2="364.2" stroke="#111" stroke-width="1.3" stroke-dasharray="3.0,2.7" stroke-dashoffset="0"/>
<line x1="464.53" y1="364.2" x2="468.13" y2="364.2" stroke="#111" stroke-width="1.3"/>
<rect x="461.97" y="356.8" width="8.72" height="4.10" fill="#8c8c8c"/>
<rect x="461.97" y="356.8" width="8.72" height="4.10" fill="none" stroke="#111" stroke-width="1.1"/>
<line x1="461.97" y1="358.9" x2="470.69" y2="358.9" stroke="#bbb" stroke-width="0.9"/>
<line x1="483.77" y1="349.1" x2="483.77" y2="347.0" stroke="#111" stroke-width="1.3" stroke-dasharray="3.0,2.7" stroke-dashoffset="0"/>
<line x1="481.97" y1="347.0" x2="485.57" y2="347.0" stroke="#111" stroke-width="1.3"/>
<line x1="483.77" y1="352.7" x2="483.77" y2="356.0" stroke="#111" stroke-width="1.3" stroke-dasharray="3.0,2.7" stroke-dashoffset="0"/>
<line x1="481.97" y1="356.0" x2="485.57" y2="356.0" stroke="#111" stroke-width="1.3"/>
<rect x="479.41" y="349.1" width="8.72" height="3.60" fill="#f6907c"/>
<rect x="479.41" y="349.1" width="8.72" height="3.60" fill="none" stroke="#111" stroke-width="1.1"/>
<line x1="479.41" y1="351.0" x2="488.13" y2="351.0" stroke="#e0a090" stroke-width="0.9"/>
<circle cx="483.77" cy="342.6" r="1.8" fill="none" stroke="#111" stroke-width="1.2"/>
<circle cx="483.77" cy="344.2" r="1.8" fill="none" stroke="#111" stroke-width="1.2"/>
<line x1="501.21" y1="327.8" x2="501.21" y2="321.5" stroke="#111" stroke-width="1.3" stroke-dasharray="3.0,2.7" stroke-dashoffset="0"/>
<line x1="499.41" y1="321.5" x2="503.01" y2="321.5" stroke="#111" stroke-width="1.3"/>
<line x1="501.21" y1="321.5" x2="501.21" y2="322.6" stroke="#111" stroke-width="1.3"/>
<line x1="501.21" y1="336.9" x2="501.21" y2="342.7" stroke="#111" stroke-width="1.3" stroke-dasharray="3.0,2.7" stroke-dashoffset="0"/>
<line x1="499.41" y1="342.7" x2="503.01" y2="342.7" stroke="#111" stroke-width="1.3"/>
<line x1="501.21" y1="342.7" x2="501.21" y2="341.59999999999997" stroke="#111" stroke-width="1.3"/>
<rect x="496.85" y="327.8" width="8.72" height="9.10" fill="#fff"/>
<rect x="503.12" y="327.8" width="2.44" height="9.10" fill="#f7ab1f"/>
<rect x="496.85" y="327.8" width="8.72" height="9.10" fill="none" stroke="#111" stroke-width="1.1"/>
<line x1="496.85" y1="332.8" x2="505.57" y2="332.8" stroke="#222" stroke-width="0.9"/>
<line x1="518.64" y1="295.4" x2="518.64" y2="285.9" stroke="#111" stroke-width="1.3" stroke-dasharray="3.0,2.7" stroke-dashoffset="0"/>
<line x1="516.84" y1="285.9" x2="520.44" y2="285.9" stroke="#111" stroke-width="1.3"/>
<line x1="518.64" y1="285.9" x2="518.64" y2="287.0" stroke="#111" stroke-width="1.3"/>
<line x1="518.64" y1="309.3" x2="518.64" y2="319.1" stroke="#111" stroke-width="1.3" stroke-dasharray="3.0,2.7" stroke-dashoffset="0"/>
<line x1="516.84" y1="319.1" x2="520.44" y2="319.1" stroke="#111" stroke-width="1.3"/>
<line x1="518.64" y1="319.1" x2="518.64" y2="318.0" stroke="#111" stroke-width="1.3"/>
<rect x="514.28" y="295.4" width="8.72" height="13.90" fill="#fff"/>
<rect x="521.78" y="295.4" width="1.22" height="13.90" fill="#bc3b6c"/>
<rect x="514.28" y="295.4" width="8.72" height="13.90" fill="none" stroke="#111" stroke-width="1.1"/>
<line x1="514.28" y1="303.1" x2="523.00" y2="303.1" stroke="#222" stroke-width="0.9"/>
<line x1="536.08" y1="294.2" x2="536.08" y2="280.6" stroke="#111" stroke-width="1.3" stroke-dasharray="3.0,2.7" stroke-dashoffset="0"/>
<line x1="534.28" y1="280.6" x2="537.88" y2="280.6" stroke="#111" stroke-width="1.3"/>
<line x1="536.08" y1="280.6" x2="536.08" y2="281.70000000000005" stroke="#111" stroke-width="1.3"/>
<line x1="536.08" y1="306.3" x2="536.08" y2="316.3" stroke="#111" stroke-width="1.3" stroke-dasharray="3.0,2.7" stroke-dashoffset="0"/>
<line x1="534.28" y1="316.3" x2="537.88" y2="316.3" stroke="#111" stroke-width="1.3"/>
<line x1="536.08" y1="316.3" x2="536.08" y2="315.2" stroke="#111" stroke-width="1.3"/>
<rect x="531.72" y="294.2" width="8.72" height="12.10" fill="#fff"/>
<rect x="539.22" y="294.2" width="1.22" height="12.10" fill="#eade08"/>
<rect x="531.72" y="294.2" width="8.72" height="12.10" fill="none" stroke="#111" stroke-width="1.1"/>
<line x1="531.72" y1="300.8" x2="540.44" y2="300.8" stroke="#222" stroke-width="0.9"/>
<rect x="17.5" y="412.2" width="142.50" height="92.10" fill="none" stroke="#6a6a6a" stroke-width="0.85"/>
<line x1="17.5" y1="500.0" x2="18.9" y2="500.0" stroke="#333" stroke-width="0.6"/>
<line x1="160.0" y1="500.0" x2="158.6" y2="500.0" stroke="#333" stroke-width="0.6"/>
<text x="15.9" y="502.5" text-anchor="end" class="tk">0</text>
<line x1="17.5" y1="483.1" x2="18.9" y2="483.1" stroke="#333" stroke-width="0.6"/>
<line x1="160.0" y1="483.1" x2="158.6" y2="483.1" stroke="#333" stroke-width="0.6"/>
<text x="15.9" y="485.6" text-anchor="end" class="tk">2</text>
<line x1="17.5" y1="465.8" x2="18.9" y2="465.8" stroke="#333" stroke-width="0.6"/>
<line x1="160.0" y1="465.8" x2="158.6" y2="465.8" stroke="#333" stroke-width="0.6"/>
<text x="15.9" y="468.3" text-anchor="end" class="tk">4</text>
<line x1="17.5" y1="448.4" x2="18.9" y2="448.4" stroke="#333" stroke-width="0.6"/>
<line x1="160.0" y1="448.4" x2="158.6" y2="448.4" stroke="#333" stroke-width="0.6"/>
<text x="15.9" y="450.9" text-anchor="end" class="tk">6</text>
<line x1="17.5" y1="431.0" x2="18.9" y2="431.0" stroke="#333" stroke-width="0.6"/>
<line x1="160.0" y1="431.0" x2="158.6" y2="431.0" stroke="#333" stroke-width="0.6"/>
<text x="15.9" y="433.5" text-anchor="end" class="tk">8</text>
<line x1="17.5" y1="413.6" x2="18.9" y2="413.6" stroke="#333" stroke-width="0.6"/>
<line x1="160.0" y1="413.6" x2="158.6" y2="413.6" stroke="#333" stroke-width="0.6"/>
<text x="15.9" y="416.1" text-anchor="end" class="tk">10</text>
<line x1="26.41" y1="504.3" x2="26.41" y2="502.90000000000003" stroke="#333" stroke-width="0.6"/>
<line x1="26.41" y1="412.2" x2="26.41" y2="413.59999999999997" stroke="#333" stroke-width="0.6"/>
<line x1="44.22" y1="504.3" x2="44.22" y2="502.90000000000003" stroke="#333" stroke-width="0.6"/>
<line x1="44.22" y1="412.2" x2="44.22" y2="413.59999999999997" stroke="#333" stroke-width="0.6"/>
<line x1="62.03" y1="504.3" x2="62.03" y2="502.90000000000003" stroke="#333" stroke-width="0.6"/>
<line x1="62.03" y1="412.2" x2="62.03" y2="413.59999999999997" stroke="#333" stroke-width="0.6"/>
<line x1="79.84" y1="504.3" x2="79.84" y2="502.90000000000003" stroke="#333" stroke-width="0.6"/>
<line x1="79.84" y1="412.2" x2="79.84" y2="413.59999999999997" stroke="#333" stroke-width="0.6"/>
<line x1="97.66" y1="504.3" x2="97.66" y2="502.90000000000003" stroke="#333" stroke-width="0.6"/>
<line x1="97.66" y1="412.2" x2="97.66" y2="413.59999999999997" stroke="#333" stroke-width="0.6"/>
<line x1="115.47" y1="504.3" x2="115.47" y2="502.90000000000003" stroke="#333" stroke-width="0.6"/>
<line x1="115.47" y1="412.2" x2="115.47" y2="413.59999999999997" stroke="#333" stroke-width="0.6"/>
<line x1="133.28" y1="504.3" x2="133.28" y2="502.90000000000003" stroke="#333" stroke-width="0.6"/>
<line x1="133.28" y1="412.2" x2="133.28" y2="413.59999999999997" stroke="#333" stroke-width="0.6"/>
<line x1="151.09" y1="504.3" x2="151.09" y2="502.90000000000003" stroke="#333" stroke-width="0.6"/>
<line x1="151.09" y1="412.2" x2="151.09" y2="413.59999999999997" stroke="#333" stroke-width="0.6"/>
<text x="26.41" y="511.8" text-anchor="middle" class="tk">ASFFOX</text>
<text x="44.22" y="511.8" text-anchor="middle" class="tk">FOX</text>
<text x="62.03" y="511.8" text-anchor="middle" class="tk">GWO</text>
<text x="79.84" y="511.8" text-anchor="middle" class="tk">HHO</text>
<text x="97.66" y="511.8" text-anchor="middle" class="tk">WOA</text>
<text x="115.47" y="511.8" text-anchor="middle" class="tk">DBO</text>
<text x="133.28" y="511.8" text-anchor="middle" class="tk">COA</text>
<text x="151.09" y="511.8" text-anchor="middle" class="tk">OOA</text>
<text x="88.75" y="518.9" text-anchor="middle" class="al">Algorithm</text>
<text x="7.70" y="458.25" text-anchor="middle" class="al" transform="rotate(-90 7.70 458.25)">Fitness value</text>
<text x="83.10" y="531.70" text-anchor="middle" class="tt" textLength="16.5" lengthAdjust="spacingAndGlyphs">F29</text>
<text x="17.3" y="410.9" class="ex"><tspan font-size="7.6" fill="#222" dy="0.3">×</tspan><tspan dx="0.4">10</tspan><tspan dy="-2.2" font-size="3.6">5</tspan></text>
<rect x="21.95" y="499.9" width="8.91" height="0.30" fill="#111"/>
<rect x="21.95" y="499.9" width="8.91" height="0.30" fill="none" stroke="#111" stroke-width="0.9"/>
<rect x="39.77" y="499.7" width="8.91" height="0.40" fill="#111"/>
<rect x="39.77" y="499.7" width="8.91" height="0.40" fill="none" stroke="#111" stroke-width="0.95"/>
<rect x="57.58" y="499.8" width="8.91" height="0.30" fill="#111"/>
<rect x="57.58" y="499.8" width="8.91" height="0.30" fill="none" stroke="#111" stroke-width="0.9"/>
<circle cx="62.03" cy="499.5" r="1.8" fill="none" stroke="#111" stroke-width="1.2"/>
<rect x="75.39" y="499.7" width="8.91" height="0.30" fill="#111"/>
<rect x="75.39" y="499.7" width="8.91" height="0.30" fill="none" stroke="#111" stroke-width="0.9"/>
<circle cx="79.84" cy="499.3" r="1.8" fill="none" stroke="#111" stroke-width="1.2"/>
<rect x="93.20" y="499.6" width="8.91" height="0.30" fill="#111"/>
<rect x="93.20" y="499.6" width="8.91" height="0.30" fill="none" stroke="#111" stroke-width="0.9"/>
<circle cx="97.66" cy="499.1" r="1.8" fill="none" stroke="#111" stroke-width="1.2"/>
<rect x="111.02" y="499.4" width="8.91" height="0.50" fill="#111"/>
<rect x="111.02" y="499.4" width="8.91" height="0.50" fill="none" stroke="#111" stroke-width="0.95"/>
<line x1="133.28" y1="486.2" x2="133.28" y2="472.5" stroke="#111" stroke-width="1.3" stroke-dasharray="3.0,2.7" stroke-dashoffset="0"/>
<line x1="131.48" y1="472.5" x2="135.08" y2="472.5" stroke="#111" stroke-width="1.3"/>
<line x1="133.28" y1="472.5" x2="133.28" y2="473.6" stroke="#111" stroke-width="1.3"/>
<line x1="133.28" y1="496.2" x2="133.28" y2="498.3" stroke="#111" stroke-width="1.3" stroke-dasharray="3.0,2.7" stroke-dashoffset="0"/>
<line x1="131.48" y1="498.3" x2="135.08" y2="498.3" stroke="#111" stroke-width="1.3"/>
<rect x="128.83" y="486.2" width="8.91" height="10.00" fill="#fff"/>
<rect x="133.73" y="486.2" width="4.01" height="10.00" fill="#bc3b6c"/>
<rect x="128.83" y="486.2" width="4.90" height="1.40" fill="#bc3b6c"/>
<rect x="128.83" y="486.2" width="8.91" height="10.00" fill="none" stroke="#111" stroke-width="1.1"/>
<line x1="128.83" y1="494.5" x2="137.73" y2="494.5" stroke="#222" stroke-width="0.9"/>
<circle cx="133.28" cy="465.4" r="1.8" fill="none" stroke="#111" stroke-width="1.2"/>
<line x1="151.09" y1="488.4" x2="151.09" y2="474.2" stroke="#111" stroke-width="1.3" stroke-dasharray="3.0,2.7" stroke-dashoffset="0"/>
<line x1="149.29" y1="474.2" x2="152.89" y2="474.2" stroke="#111" stroke-width="1.3"/>
<line x1="151.09" y1="474.2" x2="151.09" y2="475.3" stroke="#111" stroke-width="1.3"/>
<line x1="151.09" y1="497.6" x2="151.09" y2="498.6" stroke="#111" stroke-width="1.3" stroke-dasharray="3.0,2.7" stroke-dashoffset="0"/>
<line x1="149.29" y1="498.6" x2="152.89" y2="498.6" stroke="#111" stroke-width="1.3"/>
<rect x="146.64" y="488.4" width="8.91" height="9.20" fill="#fff"/>
<rect x="146.64" y="489.1" width="8.91" height="1.40" fill="#eade08"/>
<rect x="146.64" y="488.4" width="8.91" height="9.20" fill="none" stroke="#111" stroke-width="1.1"/>
<line x1="146.64" y1="494.8" x2="155.55" y2="494.8" stroke="#222" stroke-width="0.9"/>
<circle cx="151.09" cy="416.8" r="1.8" fill="none" stroke="#111" stroke-width="1.2"/>
<circle cx="151.09" cy="436.4" r="1.8" fill="none" stroke="#111" stroke-width="1.2"/>
<circle cx="151.09" cy="465.4" r="1.8" fill="none" stroke="#111" stroke-width="1.2"/>
<rect x="403.6" y="410.2" width="141.80" height="94.10" fill="none" stroke="#6a6a6a" stroke-width="0.85"/>
<line x1="403.6" y1="500.0" x2="405.0" y2="500.0" stroke="#333" stroke-width="0.6"/>
<line x1="545.4" y1="500.0" x2="544.0" y2="500.0" stroke="#333" stroke-width="0.6"/>
<text x="402.0" y="502.5" text-anchor="end" class="tk">0</text>
<line x1="403.6" y1="489.0" x2="405.0" y2="489.0" stroke="#333" stroke-width="0.6"/>
<line x1="545.4" y1="489.0" x2="544.0" y2="489.0" stroke="#333" stroke-width="0.6"/>
<text x="402.0" y="491.5" text-anchor="end" class="tk">2</text>
<line x1="403.6" y1="478.1" x2="405.0" y2="478.1" stroke="#333" stroke-width="0.6"/>
<line x1="545.4" y1="478.1" x2="544.0" y2="478.1" stroke="#333" stroke-width="0.6"/>
<text x="402.0" y="480.6" text-anchor="end" class="tk">4</text>
<line x1="403.6" y1="467.1" x2="405.0" y2="467.1" stroke="#333" stroke-width="0.6"/>
<line x1="545.4" y1="467.1" x2="544.0" y2="467.1" stroke="#333" stroke-width="0.6"/>
<text x="402.0" y="469.6" text-anchor="end" class="tk">6</text>
<line x1="403.6" y1="456.2" x2="405.0" y2="456.2" stroke="#333" stroke-width="0.6"/>
<line x1="545.4" y1="456.2" x2="544.0" y2="456.2" stroke="#333" stroke-width="0.6"/>
<text x="402.0" y="458.7" text-anchor="end" class="tk">8</text>
<line x1="403.6" y1="445.2" x2="405.0" y2="445.2" stroke="#333" stroke-width="0.6"/>
<line x1="545.4" y1="445.2" x2="544.0" y2="445.2" stroke="#333" stroke-width="0.6"/>
<text x="402.0" y="447.7" text-anchor="end" class="tk">10</text>
<line x1="403.6" y1="434.3" x2="405.0" y2="434.3" stroke="#333" stroke-width="0.6"/>
<line x1="545.4" y1="434.3" x2="544.0" y2="434.3" stroke="#333" stroke-width="0.6"/>
<text x="402.0" y="436.8" text-anchor="end" class="tk">12</text>
<line x1="403.6" y1="423.3" x2="405.0" y2="423.3" stroke="#333" stroke-width="0.6"/>
<line x1="545.4" y1="423.3" x2="544.0" y2="423.3" stroke="#333" stroke-width="0.6"/>
<text x="402.0" y="425.8" text-anchor="end" class="tk">14</text>
<line x1="403.6" y1="412.4" x2="405.0" y2="412.4" stroke="#333" stroke-width="0.6"/>
<line x1="545.4" y1="412.4" x2="544.0" y2="412.4" stroke="#333" stroke-width="0.6"/>
<text x="402.0" y="414.9" text-anchor="end" class="tk">16</text>
<line x1="412.46" y1="504.3" x2="412.46" y2="502.90000000000003" stroke="#333" stroke-width="0.6"/>
<line x1="412.46" y1="410.2" x2="412.46" y2="411.59999999999997" stroke="#333" stroke-width="0.6"/>
<line x1="430.19" y1="504.3" x2="430.19" y2="502.90000000000003" stroke="#333" stroke-width="0.6"/>
<line x1="430.19" y1="410.2" x2="430.19" y2="411.59999999999997" stroke="#333" stroke-width="0.6"/>
<line x1="447.91" y1="504.3" x2="447.91" y2="502.90000000000003" stroke="#333" stroke-width="0.6"/>
<line x1="447.91" y1="410.2" x2="447.91" y2="411.59999999999997" stroke="#333" stroke-width="0.6"/>
<line x1="465.64" y1="504.3" x2="465.64" y2="502.90000000000003" stroke="#333" stroke-width="0.6"/>
<line x1="465.64" y1="410.2" x2="465.64" y2="411.59999999999997" stroke="#333" stroke-width="0.6"/>
<line x1="483.36" y1="504.3" x2="483.36" y2="502.90000000000003" stroke="#333" stroke-width="0.6"/>
<line x1="483.36" y1="410.2" x2="483.36" y2="411.59999999999997" stroke="#333" stroke-width="0.6"/>
<line x1="501.09" y1="504.3" x2="501.09" y2="502.90000000000003" stroke="#333" stroke-width="0.6"/>
<line x1="501.09" y1="410.2" x2="501.09" y2="411.59999999999997" stroke="#333" stroke-width="0.6"/>
<line x1="518.81" y1="504.3" x2="518.81" y2="502.90000000000003" stroke="#333" stroke-width="0.6"/>
<line x1="518.81" y1="410.2" x2="518.81" y2="411.59999999999997" stroke="#333" stroke-width="0.6"/>
<line x1="536.54" y1="504.3" x2="536.54" y2="502.90000000000003" stroke="#333" stroke-width="0.6"/>
<line x1="536.54" y1="410.2" x2="536.54" y2="411.59999999999997" stroke="#333" stroke-width="0.6"/>
<text x="412.46" y="511.8" text-anchor="middle" class="tk">ASFFOX</text>
<text x="430.19" y="511.8" text-anchor="middle" class="tk">FOX</text>
<text x="447.91" y="511.8" text-anchor="middle" class="tk">GWO</text>
<text x="465.64" y="511.8" text-anchor="middle" class="tk">HHO</text>
<text x="483.36" y="511.8" text-anchor="middle" class="tk">WOA</text>
<text x="501.09" y="511.8" text-anchor="middle" class="tk">DBO</text>
<text x="518.81" y="511.8" text-anchor="middle" class="tk">COA</text>
<text x="536.54" y="511.8" text-anchor="middle" class="tk">OOA</text>
<text x="474.50" y="518.9" text-anchor="middle" class="al">Algorithm</text>
<text x="393.80" y="457.25" text-anchor="middle" class="al" transform="rotate(-90 393.80 457.25)">Fitness value</text>
<text x="467.80" y="533.80" text-anchor="middle" class="tt" textLength="17.0" lengthAdjust="spacingAndGlyphs">F30</text>
<text x="403.40000000000003" y="408.9" class="ex"><tspan font-size="7.6" fill="#222" dy="0.3">×</tspan><tspan dx="0.4">10</tspan><tspan dy="-2.2" font-size="3.6">5</tspan></text>
<rect x="408.03" y="499.7" width="8.86" height="0.30" fill="#333"/>
<rect x="408.03" y="499.7" width="8.86" height="0.30" fill="none" stroke="#111" stroke-width="0.8"/>
<circle cx="412.46" cy="499.8" r="1.8" fill="none" stroke="#555" stroke-width="1.2"/>
<rect x="425.76" y="498.9" width="8.86" height="0.40" fill="#111"/>
<rect x="425.76" y="498.9" width="8.86" height="0.40" fill="none" stroke="#111" stroke-width="0.9"/>
<circle cx="430.19" cy="499.1" r="1.8" fill="#222" stroke="#111" stroke-width="1.2"/>
<rect x="443.48" y="498.9" width="8.86" height="0.50" fill="#111"/>
<rect x="443.48" y="498.9" width="8.86" height="0.50" fill="none" stroke="#111" stroke-width="0.9"/>
<circle cx="447.91" cy="497.0" r="1.8" fill="none" stroke="#111" stroke-width="1.2"/>
<rect x="461.21" y="498.9" width="8.86" height="0.50" fill="#111"/>
<rect x="461.21" y="498.9" width="8.86" height="0.50" fill="none" stroke="#111" stroke-width="0.9"/>
<circle cx="465.64" cy="497.0" r="1.8" fill="none" stroke="#111" stroke-width="1.2"/>
<rect x="478.93" y="497.1" width="8.86" height="2.00" fill="#111"/>
<rect x="478.93" y="497.1" width="8.86" height="2.00" fill="none" stroke="#111" stroke-width="1.2"/>
<line x1="501.09" y1="480.3" x2="501.09" y2="471.0" stroke="#111" stroke-width="1.3" stroke-dasharray="3.0,2.7" stroke-dashoffset="0"/>
<line x1="499.29" y1="471.0" x2="502.89" y2="471.0" stroke="#111" stroke-width="1.3"/>
<line x1="501.09" y1="471.0" x2="501.09" y2="472.1" stroke="#111" stroke-width="1.3"/>
<line x1="501.09" y1="488.8" x2="501.09" y2="493.3" stroke="#111" stroke-width="1.3" stroke-dasharray="3.0,2.7" stroke-dashoffset="0"/>
<line x1="499.29" y1="493.3" x2="502.89" y2="493.3" stroke="#111" stroke-width="1.3"/>
<line x1="501.09" y1="493.3" x2="501.09" y2="492.2" stroke="#111" stroke-width="1.3"/>
<rect x="496.66" y="480.3" width="8.86" height="8.50" fill="#fff"/>
<rect x="503.30" y="480.3" width="2.22" height="8.50" fill="#f7ab1f"/>
<rect x="496.66" y="480.3" width="0.89" height="8.50" fill="#f7ab1f"/>
<rect x="496.66" y="480.3" width="8.86" height="8.50" fill="none" stroke="#111" stroke-width="1.1"/>
<line x1="496.66" y1="484.4" x2="505.52" y2="484.4" stroke="#222" stroke-width="0.9"/>
<circle cx="501.09" cy="465.9" r="1.8" fill="none" stroke="#111" stroke-width="1.2"/>
<line x1="518.81" y1="437.4" x2="518.81" y2="414.5" stroke="#111" stroke-width="1.3" stroke-dasharray="3.0,2.7" stroke-dashoffset="0"/>
<line x1="517.01" y1="414.5" x2="520.61" y2="414.5" stroke="#111" stroke-width="1.3"/>
<line x1="518.81" y1="414.5" x2="518.81" y2="415.6" stroke="#111" stroke-width="1.3"/>
<line x1="518.81" y1="455.4" x2="518.81" y2="480.8" stroke="#111" stroke-width="1.3" stroke-dasharray="3.0,2.7" stroke-dashoffset="0"/>
<line x1="517.01" y1="480.8" x2="520.61" y2="480.8" stroke="#111" stroke-width="1.3"/>
<line x1="518.81" y1="480.8" x2="518.81" y2="479.7" stroke="#111" stroke-width="1.3"/>
<rect x="514.38" y="437.4" width="8.86" height="18.00" fill="#bc3b6c"/>
<rect x="514.38" y="437.4" width="8.86" height="2.50" fill="#fff"/>
<rect x="514.38" y="437.4" width="8.86" height="18.00" fill="none" stroke="#111" stroke-width="1.1"/>
<circle cx="518.81" cy="485.6" r="1.8" fill="none" stroke="#111" stroke-width="1.2"/>
<line x1="536.54" y1="438.6" x2="536.54" y2="425.5" stroke="#111" stroke-width="1.3" stroke-dasharray="3.0,2.7" stroke-dashoffset="0"/>
<line x1="534.74" y1="425.5" x2="538.34" y2="425.5" stroke="#111" stroke-width="1.3"/>
<line x1="536.54" y1="425.5" x2="536.54" y2="426.6" stroke="#111" stroke-width="1.3"/>
<line x1="536.54" y1="461.5" x2="536.54" y2="477.1" stroke="#111" stroke-width="1.3" stroke-dasharray="3.0,2.7" stroke-dashoffset="0"/>
<line x1="534.74" y1="477.1" x2="538.34" y2="477.1" stroke="#111" stroke-width="1.3"/>
<line x1="536.54" y1="477.1" x2="536.54" y2="476.0" stroke="#111" stroke-width="1.3"/>
<rect x="532.11" y="438.6" width="8.86" height="22.90" fill="#eade08"/>
<rect x="532.11" y="438.6" width="8.86" height="2.70" fill="#fff"/>
<rect x="532.11" y="438.6" width="8.86" height="22.90" fill="none" stroke="#111" stroke-width="1.1"/>
</g>
</svg>
</body></html>
